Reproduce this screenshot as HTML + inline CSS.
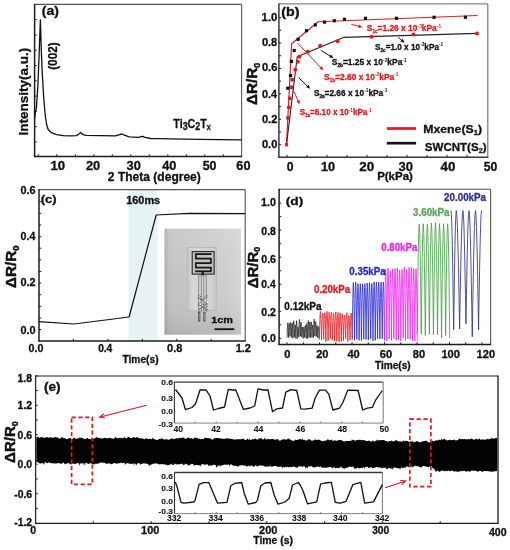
<!DOCTYPE html>
<html><head><meta charset="utf-8"><title>Figure</title>
<style>html,body{margin:0;padding:0;background:#fff;width:510px;height:550px;overflow:hidden}svg{display:block}</style>
</head><body>
<svg width="510" height="550" viewBox="0 0 510 550"><rect width="510" height="550" fill="#fff"/><line x1="34.60" y1="4.40" x2="241.60" y2="4.40" stroke="#555555" stroke-width="1.10"/>
<line x1="241.60" y1="4.40" x2="241.60" y2="156.50" stroke="#555555" stroke-width="1.10"/>
<line x1="34.60" y1="3.90" x2="34.60" y2="157.10" stroke="#1c1c1c" stroke-width="1.50"/>
<line x1="34.00" y1="156.50" x2="242.10" y2="156.50" stroke="#1c1c1c" stroke-width="1.50"/>
<line x1="34.60" y1="19.60" x2="36.80" y2="19.60" stroke="#1e1e1e" stroke-width="1.00"/>
<line x1="34.60" y1="34.90" x2="36.80" y2="34.90" stroke="#1e1e1e" stroke-width="1.00"/>
<line x1="34.60" y1="50.20" x2="36.80" y2="50.20" stroke="#1e1e1e" stroke-width="1.00"/>
<line x1="34.60" y1="65.50" x2="36.80" y2="65.50" stroke="#1e1e1e" stroke-width="1.00"/>
<line x1="34.60" y1="80.80" x2="36.80" y2="80.80" stroke="#1e1e1e" stroke-width="1.00"/>
<line x1="34.60" y1="96.10" x2="36.80" y2="96.10" stroke="#1e1e1e" stroke-width="1.00"/>
<line x1="34.60" y1="111.40" x2="36.80" y2="111.40" stroke="#1e1e1e" stroke-width="1.00"/>
<line x1="34.60" y1="126.70" x2="36.80" y2="126.70" stroke="#1e1e1e" stroke-width="1.00"/>
<line x1="34.60" y1="142.00" x2="36.80" y2="142.00" stroke="#1e1e1e" stroke-width="1.00"/>
<line x1="38.30" y1="156.50" x2="38.30" y2="154.30" stroke="#1e1e1e" stroke-width="1.00"/>
<line x1="56.80" y1="156.50" x2="56.80" y2="154.30" stroke="#1e1e1e" stroke-width="1.00"/>
<line x1="75.30" y1="156.50" x2="75.30" y2="154.30" stroke="#1e1e1e" stroke-width="1.00"/>
<line x1="93.80" y1="156.50" x2="93.80" y2="154.30" stroke="#1e1e1e" stroke-width="1.00"/>
<line x1="112.30" y1="156.50" x2="112.30" y2="154.30" stroke="#1e1e1e" stroke-width="1.00"/>
<line x1="130.80" y1="156.50" x2="130.80" y2="154.30" stroke="#1e1e1e" stroke-width="1.00"/>
<line x1="149.30" y1="156.50" x2="149.30" y2="154.30" stroke="#1e1e1e" stroke-width="1.00"/>
<line x1="167.80" y1="156.50" x2="167.80" y2="154.30" stroke="#1e1e1e" stroke-width="1.00"/>
<line x1="186.30" y1="156.50" x2="186.30" y2="154.30" stroke="#1e1e1e" stroke-width="1.00"/>
<line x1="204.80" y1="156.50" x2="204.80" y2="154.30" stroke="#1e1e1e" stroke-width="1.00"/>
<line x1="223.30" y1="156.50" x2="223.30" y2="154.30" stroke="#1e1e1e" stroke-width="1.00"/>
<polyline points="34.60,118.50 35.30,112.50 36.40,108.00 37.90,85.00 38.90,60.00 40.40,19.80 41.30,50.00 42.20,72.00 43.70,98.00 45.30,116.00 46.60,124.50 48.20,129.50 51.00,132.30 56.50,134.60 63.50,135.70 70.00,135.90 76.50,135.60 79.00,134.00 80.70,132.40 82.50,134.30 85.90,135.30 100.00,135.70 115.30,135.80 119.00,134.80 121.90,134.00 125.00,135.30 129.40,136.80 138.80,137.30 141.00,136.60 142.80,136.30 145.00,137.40 150.60,138.50 160.00,138.60 170.00,138.80 200.00,139.40 241.60,139.80" fill="none" stroke="#111" stroke-width="1.30" stroke-linejoin="round"/>
<text transform="translate(41.77,15.20) scale(1.1652,1)" font-family='"Liberation Sans", sans-serif' font-weight="bold" fill="#111" stroke="#111" stroke-width="0.30" stroke-linejoin="round"><tspan x="0.00" y="0.00" font-size="12.00">(a)</tspan></text>
<text transform="translate(57.20,69.30) rotate(-90) scale(0.9618,1) translate(-0.55,0)" font-family='"Liberation Sans", sans-serif' font-weight="bold" fill="#111" stroke="#111" stroke-width="0.30" stroke-linejoin="round"><tspan x="0.00" y="0.00" font-size="12.30">(002)</tspan></text>
<text transform="translate(27.80,134.50) rotate(-90) scale(1.0719,1) translate(-0.82,0)" font-family='"Liberation Sans", sans-serif' font-weight="bold" fill="#111" stroke="#111" stroke-width="0.30" stroke-linejoin="round"><tspan x="0.00" y="0.00" font-size="12.60">Intensity(a.u.)</tspan></text>
<text transform="translate(173.29,127.70) scale(0.8459,1)" font-family='"Liberation Sans", sans-serif' font-weight="bold" fill="#111" stroke="#111" stroke-width="0.30" stroke-linejoin="round"><tspan x="0.00" y="0.00" font-size="12.70">Ti</tspan><tspan x="11.06" y="2.20" font-size="10.50">3</tspan><tspan x="16.90" y="0.00" font-size="12.70">C</tspan><tspan x="26.07" y="2.20" font-size="10.50">2</tspan><tspan x="31.91" y="0.00" font-size="12.70">T</tspan><tspan x="39.67" y="2.20" font-size="8.50">x</tspan></text>
<text transform="translate(50.51,169.80) scale(1.0733,1)" font-family='"Liberation Sans", sans-serif' font-weight="bold" fill="#111" stroke="#111" stroke-width="0.30" stroke-linejoin="round"><tspan x="0.00" y="0.00" font-size="12.30">10</tspan></text>
<text transform="translate(85.92,169.80) scale(1.0425,1)" font-family='"Liberation Sans", sans-serif' font-weight="bold" fill="#111" stroke="#111" stroke-width="0.30" stroke-linejoin="round"><tspan x="0.00" y="0.00" font-size="12.30">20</tspan></text>
<text transform="translate(126.54,169.80) scale(1.0403,1)" font-family='"Liberation Sans", sans-serif' font-weight="bold" fill="#111" stroke="#111" stroke-width="0.30" stroke-linejoin="round"><tspan x="0.00" y="0.00" font-size="12.30">30</tspan></text>
<text transform="translate(162.21,169.80) scale(1.0354,1)" font-family='"Liberation Sans", sans-serif' font-weight="bold" fill="#111" stroke="#111" stroke-width="0.30" stroke-linejoin="round"><tspan x="0.00" y="0.00" font-size="12.30">40</tspan></text>
<text transform="translate(202.63,169.80) scale(1.0114,1)" font-family='"Liberation Sans", sans-serif' font-weight="bold" fill="#111" stroke="#111" stroke-width="0.30" stroke-linejoin="round"><tspan x="0.00" y="0.00" font-size="12.30">50</tspan></text>
<text transform="translate(236.36,169.80) scale(1.0319,1)" font-family='"Liberation Sans", sans-serif' font-weight="bold" fill="#111" stroke="#111" stroke-width="0.30" stroke-linejoin="round"><tspan x="0.00" y="0.00" font-size="12.30">60</tspan></text>
<text transform="translate(107.84,180.50) scale(0.9638,1)" font-family='"Liberation Sans", sans-serif' font-weight="bold" fill="#111" stroke="#111" stroke-width="0.30" stroke-linejoin="round"><tspan x="0.00" y="0.00" font-size="12.50">2 Theta (degree)</tspan></text>
<line x1="278.90" y1="3.90" x2="487.80" y2="3.90" stroke="#858585" stroke-width="1.10"/>
<line x1="487.80" y1="3.90" x2="487.80" y2="157.30" stroke="#6a6a6a" stroke-width="1.10"/>
<line x1="278.90" y1="3.40" x2="278.90" y2="157.90" stroke="#383838" stroke-width="1.50"/>
<line x1="278.30" y1="157.30" x2="488.30" y2="157.30" stroke="#383838" stroke-width="1.50"/>
<line x1="279.00" y1="144.70" x2="281.20" y2="144.70" stroke="#1e1e1e" stroke-width="1.00"/>
<line x1="279.00" y1="131.99" x2="281.20" y2="131.99" stroke="#1e1e1e" stroke-width="1.00"/>
<line x1="279.00" y1="119.28" x2="281.20" y2="119.28" stroke="#1e1e1e" stroke-width="1.00"/>
<line x1="279.00" y1="106.57" x2="281.20" y2="106.57" stroke="#1e1e1e" stroke-width="1.00"/>
<line x1="279.00" y1="93.86" x2="281.20" y2="93.86" stroke="#1e1e1e" stroke-width="1.00"/>
<line x1="279.00" y1="81.15" x2="281.20" y2="81.15" stroke="#1e1e1e" stroke-width="1.00"/>
<line x1="279.00" y1="68.44" x2="281.20" y2="68.44" stroke="#1e1e1e" stroke-width="1.00"/>
<line x1="279.00" y1="55.73" x2="281.20" y2="55.73" stroke="#1e1e1e" stroke-width="1.00"/>
<line x1="279.00" y1="43.02" x2="281.20" y2="43.02" stroke="#1e1e1e" stroke-width="1.00"/>
<line x1="279.00" y1="30.31" x2="281.20" y2="30.31" stroke="#1e1e1e" stroke-width="1.00"/>
<line x1="279.00" y1="17.60" x2="281.20" y2="17.60" stroke="#1e1e1e" stroke-width="1.00"/>
<line x1="287.00" y1="157.10" x2="287.00" y2="154.90" stroke="#1e1e1e" stroke-width="1.00"/>
<line x1="307.00" y1="157.10" x2="307.00" y2="154.90" stroke="#1e1e1e" stroke-width="1.00"/>
<line x1="327.00" y1="157.10" x2="327.00" y2="154.90" stroke="#1e1e1e" stroke-width="1.00"/>
<line x1="347.00" y1="157.10" x2="347.00" y2="154.90" stroke="#1e1e1e" stroke-width="1.00"/>
<line x1="367.00" y1="157.10" x2="367.00" y2="154.90" stroke="#1e1e1e" stroke-width="1.00"/>
<line x1="387.00" y1="157.10" x2="387.00" y2="154.90" stroke="#1e1e1e" stroke-width="1.00"/>
<line x1="407.00" y1="157.10" x2="407.00" y2="154.90" stroke="#1e1e1e" stroke-width="1.00"/>
<line x1="427.00" y1="157.10" x2="427.00" y2="154.90" stroke="#1e1e1e" stroke-width="1.00"/>
<line x1="447.00" y1="157.10" x2="447.00" y2="154.90" stroke="#1e1e1e" stroke-width="1.00"/>
<line x1="467.00" y1="157.10" x2="467.00" y2="154.90" stroke="#1e1e1e" stroke-width="1.00"/>
<text transform="translate(261.91,148.35) scale(1.0408,1)" font-family='"Liberation Sans", sans-serif' font-weight="bold" fill="#111" stroke="#111" stroke-width="0.30" stroke-linejoin="round"><tspan x="0.00" y="0.00" font-size="10.70">0.0</tspan></text>
<text transform="translate(261.91,122.95) scale(1.0408,1)" font-family='"Liberation Sans", sans-serif' font-weight="bold" fill="#111" stroke="#111" stroke-width="0.30" stroke-linejoin="round"><tspan x="0.00" y="0.00" font-size="10.70">0.2</tspan></text>
<text transform="translate(261.92,97.80) scale(1.0139,1)" font-family='"Liberation Sans", sans-serif' font-weight="bold" fill="#111" stroke="#111" stroke-width="0.30" stroke-linejoin="round"><tspan x="0.00" y="0.00" font-size="10.70">0.4</tspan></text>
<text transform="translate(261.91,70.80) scale(1.0408,1)" font-family='"Liberation Sans", sans-serif' font-weight="bold" fill="#111" stroke="#111" stroke-width="0.30" stroke-linejoin="round"><tspan x="0.00" y="0.00" font-size="10.70">0.6</tspan></text>
<text transform="translate(261.91,45.80) scale(1.0330,1)" font-family='"Liberation Sans", sans-serif' font-weight="bold" fill="#111" stroke="#111" stroke-width="0.30" stroke-linejoin="round"><tspan x="0.00" y="0.00" font-size="10.70">0.8</tspan></text>
<text transform="translate(261.62,20.90) scale(1.0609,1)" font-family='"Liberation Sans", sans-serif' font-weight="bold" fill="#111" stroke="#111" stroke-width="0.30" stroke-linejoin="round"><tspan x="0.00" y="0.00" font-size="10.70">1.0</tspan></text>
<text transform="translate(286.87,170.90) scale(1.0054,1)" font-family='"Liberation Sans", sans-serif' font-weight="bold" fill="#111" stroke="#111" stroke-width="0.30" stroke-linejoin="round"><tspan x="0.00" y="0.00" font-size="12.10">0</tspan></text>
<text transform="translate(321.04,170.90) scale(1.0504,1)" font-family='"Liberation Sans", sans-serif' font-weight="bold" fill="#111" stroke="#111" stroke-width="0.30" stroke-linejoin="round"><tspan x="0.00" y="0.00" font-size="12.10">10</tspan></text>
<text transform="translate(359.20,170.90) scale(1.1072,1)" font-family='"Liberation Sans", sans-serif' font-weight="bold" fill="#111" stroke="#111" stroke-width="0.30" stroke-linejoin="round"><tspan x="0.00" y="0.00" font-size="12.10">20</tspan></text>
<text transform="translate(398.54,170.90) scale(1.0732,1)" font-family='"Liberation Sans", sans-serif' font-weight="bold" fill="#111" stroke="#111" stroke-width="0.30" stroke-linejoin="round"><tspan x="0.00" y="0.00" font-size="12.10">30</tspan></text>
<text transform="translate(440.60,170.90) scale(1.1071,1)" font-family='"Liberation Sans", sans-serif' font-weight="bold" fill="#111" stroke="#111" stroke-width="0.30" stroke-linejoin="round"><tspan x="0.00" y="0.00" font-size="12.10">40</tspan></text>
<text transform="translate(483.63,170.90) scale(1.0123,1)" font-family='"Liberation Sans", sans-serif' font-weight="bold" fill="#111" stroke="#111" stroke-width="0.30" stroke-linejoin="round"><tspan x="0.00" y="0.00" font-size="12.10">50</tspan></text>
<text transform="translate(377.15,180.30) scale(1.0238,1)" font-family='"Liberation Sans", sans-serif' font-weight="bold" fill="#111" stroke="#111" stroke-width="0.30" stroke-linejoin="round"><tspan x="0.00" y="0.00" font-size="11.20">P(kPa)</tspan></text>
<text transform="translate(257.00,104.40) rotate(-90) scale(1.0176,1) translate(-0.60,0)" font-family='"Liberation Sans", sans-serif' font-weight="bold" fill="#111" stroke="#111" stroke-width="0.45" stroke-linejoin="round"><tspan x="0.00" y="0.00" font-size="15.00">ΔR/R</tspan><tspan x="36.61" y="2.80" font-size="8.60">0</tspan></text>
<text transform="translate(281.26,16.30) scale(1.1885,1)" font-family='"Liberation Sans", sans-serif' font-weight="bold" fill="#111" stroke="#111" stroke-width="0.30" stroke-linejoin="round"><tspan x="0.00" y="0.00" font-size="12.00">(b)</tspan></text>
<polyline points="286.50,144.70 291.60,43.80 318.20,21.80 477.70,15.50" fill="none" stroke="#e8161c" stroke-width="1.15" stroke-linejoin="round"/>
<polyline points="286.50,144.70 297.20,56.80 343.50,37.40 477.00,33.40" fill="none" stroke="#222" stroke-width="1.10" stroke-linejoin="round"/>
<rect x="286.10" y="86.60" width="3.2" height="3.2" fill="#111"/>
<rect x="288.90" y="74.00" width="3.2" height="3.2" fill="#111"/>
<rect x="289.80" y="59.80" width="3.2" height="3.2" fill="#111"/>
<rect x="292.60" y="48.90" width="3.2" height="3.2" fill="#111"/>
<rect x="296.50" y="37.70" width="3.2" height="3.2" fill="#111"/>
<rect x="304.90" y="29.10" width="3.2" height="3.2" fill="#111"/>
<rect x="313.70" y="23.30" width="3.2" height="3.2" fill="#111"/>
<rect x="322.90" y="20.50" width="3.2" height="3.2" fill="#111"/>
<rect x="332.70" y="19.10" width="3.2" height="3.2" fill="#111"/>
<rect x="342.90" y="17.70" width="3.2" height="3.2" fill="#111"/>
<rect x="363.90" y="16.70" width="3.2" height="3.2" fill="#111"/>
<rect x="394.90" y="16.70" width="3.2" height="3.2" fill="#111"/>
<rect x="432.50" y="15.70" width="3.2" height="3.2" fill="#111"/>
<rect x="463.80" y="15.70" width="3.2" height="3.2" fill="#111"/>
<circle cx="288.00" cy="118.10" r="2.0" fill="#e8161c"/>
<circle cx="288.90" cy="107.40" r="2.0" fill="#e8161c"/>
<circle cx="289.80" cy="98.20" r="2.0" fill="#e8161c"/>
<circle cx="291.40" cy="87.30" r="2.0" fill="#e8161c"/>
<circle cx="292.30" cy="79.80" r="2.0" fill="#e8161c"/>
<circle cx="295.30" cy="69.80" r="2.0" fill="#e8161c"/>
<circle cx="297.70" cy="61.80" r="2.0" fill="#e8161c"/>
<circle cx="299.40" cy="56.70" r="2.0" fill="#e8161c"/>
<circle cx="307.90" cy="51.70" r="2.0" fill="#e8161c"/>
<circle cx="320.20" cy="45.80" r="2.0" fill="#e8161c"/>
<circle cx="337.60" cy="41.30" r="2.0" fill="#e8161c"/>
<circle cx="371.40" cy="36.80" r="2.0" fill="#e8161c"/>
<circle cx="413.50" cy="34.60" r="2.0" fill="#e8161c"/>
<circle cx="477.00" cy="33.40" r="2.0" fill="#e8161c"/>
<rect x="284.9" y="143.1" width="3.2" height="3.2" fill="#e8161c"/>
<line x1="351.40" y1="24.40" x2="359.11" y2="26.42" stroke="#e8161c" stroke-width="1.00"/>
<polygon points="362.50,27.30 358.17,28.03 359.08,24.55" fill="#e8161c"/>
<line x1="398.40" y1="37.40" x2="401.88" y2="40.48" stroke="#111" stroke-width="1.00"/>
<polygon points="404.50,42.80 400.31,41.50 402.70,38.80" fill="#111"/>
<line x1="320.70" y1="50.20" x2="330.51" y2="56.18" stroke="#111" stroke-width="1.00"/>
<polygon points="333.50,58.00 329.15,57.46 331.02,54.38" fill="#111"/>
<line x1="297.60" y1="43.30" x2="320.88" y2="67.67" stroke="#e8161c" stroke-width="1.00"/>
<polygon points="323.30,70.20 319.24,68.55 321.84,66.06" fill="#e8161c"/>
<line x1="298.60" y1="77.70" x2="307.67" y2="86.38" stroke="#111" stroke-width="1.00"/>
<polygon points="310.20,88.80 306.07,87.34 308.55,84.73" fill="#111"/>
<line x1="292.90" y1="89.10" x2="298.28" y2="101.20" stroke="#e8161c" stroke-width="1.00"/>
<polygon points="299.70,104.40 296.43,101.48 299.72,100.01" fill="#e8161c"/>
<text transform="translate(366.79,30.90) scale(0.9336,1)" font-family='"Liberation Sans", sans-serif' font-weight="bold" fill="#e8161c" stroke="#e8161c" stroke-width="0.30" stroke-linejoin="round"><tspan x="0.00" y="0.00" font-size="9.00">S</tspan><tspan x="6.00" y="2.00" font-size="5.00">1c</tspan><tspan x="11.56" y="0.00" font-size="9.00">=1.26 x 10</tspan><tspan x="54.36" y="-3.40" font-size="5.20" stroke-width="0">-3</tspan><tspan x="58.98" y="0.00" font-size="9.00">kPa</tspan><tspan x="74.99" y="-3.40" font-size="5.20" stroke-width="0">-1</tspan></text>
<text transform="translate(375.09,49.60) scale(0.9130,1)" font-family='"Liberation Sans", sans-serif' font-weight="bold" fill="#111" stroke="#111" stroke-width="0.30" stroke-linejoin="round"><tspan x="0.00" y="0.00" font-size="9.00">S</tspan><tspan x="6.00" y="2.00" font-size="5.00">2c</tspan><tspan x="11.56" y="0.00" font-size="9.00">=1.0 x 10</tspan><tspan x="49.35" y="-3.40" font-size="5.20" stroke-width="0">-3</tspan><tspan x="53.97" y="0.00" font-size="9.00">kPa</tspan><tspan x="69.99" y="-3.40" font-size="5.20" stroke-width="0">-1</tspan></text>
<text transform="translate(331.79,65.00) scale(0.9379,1)" font-family='"Liberation Sans", sans-serif' font-weight="bold" fill="#111" stroke="#111" stroke-width="0.30" stroke-linejoin="round"><tspan x="0.00" y="0.00" font-size="9.00">S</tspan><tspan x="6.00" y="2.00" font-size="5.00">2b</tspan><tspan x="11.84" y="0.00" font-size="9.00">=1.25 x 10</tspan><tspan x="54.63" y="-3.40" font-size="5.20" stroke-width="0">-2</tspan><tspan x="59.25" y="0.00" font-size="9.00">kPa</tspan><tspan x="75.27" y="-3.40" font-size="5.20" stroke-width="0">-1</tspan></text>
<text transform="translate(324.09,79.60) scale(0.9316,1)" font-family='"Liberation Sans", sans-serif' font-weight="bold" fill="#e8161c" stroke="#e8161c" stroke-width="0.30" stroke-linejoin="round"><tspan x="0.00" y="0.00" font-size="9.00">S</tspan><tspan x="6.00" y="2.00" font-size="5.00">1b</tspan><tspan x="11.84" y="0.00" font-size="9.00">=2.60 x 10</tspan><tspan x="54.63" y="-3.40" font-size="5.20" stroke-width="0">-2</tspan><tspan x="59.25" y="0.00" font-size="9.00">kPa</tspan><tspan x="75.27" y="-3.40" font-size="5.20" stroke-width="0">-1</tspan></text>
<text transform="translate(313.89,95.80) scale(0.9247,1)" font-family='"Liberation Sans", sans-serif' font-weight="bold" fill="#111" stroke="#111" stroke-width="0.30" stroke-linejoin="round"><tspan x="0.00" y="0.00" font-size="9.00">S</tspan><tspan x="6.00" y="2.00" font-size="5.00">2a</tspan><tspan x="11.56" y="0.00" font-size="9.00">=2.66 x 10</tspan><tspan x="54.36" y="-3.40" font-size="5.20" stroke-width="0">-1</tspan><tspan x="58.98" y="0.00" font-size="9.00">kPa</tspan><tspan x="74.99" y="-3.40" font-size="5.20" stroke-width="0">-1</tspan></text>
<text transform="translate(299.70,115.20) scale(0.9020,1)" font-family='"Liberation Sans", sans-serif' font-weight="bold" fill="#e8161c" stroke="#e8161c" stroke-width="0.30" stroke-linejoin="round"><tspan x="0.00" y="0.00" font-size="9.00">S</tspan><tspan x="6.00" y="2.00" font-size="5.00">1a</tspan><tspan x="11.56" y="0.00" font-size="9.00">=6.10 x 10</tspan><tspan x="54.36" y="-3.40" font-size="5.20" stroke-width="0">-1</tspan><tspan x="58.98" y="0.00" font-size="9.00">kPa</tspan><tspan x="74.99" y="-3.40" font-size="5.20" stroke-width="0">-1</tspan></text>
<line x1="386.80" y1="128.50" x2="416.10" y2="128.50" stroke="#e8161c" stroke-width="2.70"/>
<line x1="386.80" y1="143.20" x2="416.10" y2="143.20" stroke="#111" stroke-width="2.70"/>
<text transform="translate(423.20,133.00) scale(1.0880,1)" font-family='"Liberation Sans", sans-serif' font-weight="bold" fill="#111" stroke="#111" stroke-width="0.30" stroke-linejoin="round"><tspan x="0.00" y="0.00" font-size="11.30">Mxene(S</tspan><tspan x="46.47" y="2.20" font-size="7.00">1</tspan><tspan x="50.36" y="0.00" font-size="11.30">)</tspan></text>
<text transform="translate(424.81,151.10) scale(1.0225,1)" font-family='"Liberation Sans", sans-serif' font-weight="bold" fill="#111" stroke="#111" stroke-width="0.30" stroke-linejoin="round"><tspan x="0.00" y="0.00" font-size="11.30">SWCNT(S</tspan><tspan x="52.73" y="2.20" font-size="7.00">2</tspan><tspan x="56.62" y="0.00" font-size="11.30">)</tspan></text>
<rect x="128.5" y="189.6" width="29.0" height="151.4" fill="#e7f2f5"/>
<line x1="39.00" y1="189.60" x2="245.20" y2="189.60" stroke="#555555" stroke-width="1.10"/>
<line x1="245.20" y1="189.60" x2="245.20" y2="341.00" stroke="#555555" stroke-width="1.10"/>
<line x1="39.00" y1="189.10" x2="39.00" y2="341.60" stroke="#1c1c1c" stroke-width="1.50"/>
<line x1="38.40" y1="341.00" x2="245.70" y2="341.00" stroke="#1c1c1c" stroke-width="1.50"/>
<line x1="39.00" y1="329.60" x2="41.20" y2="329.60" stroke="#1e1e1e" stroke-width="1.00"/>
<line x1="39.00" y1="317.98" x2="41.20" y2="317.98" stroke="#1e1e1e" stroke-width="1.00"/>
<line x1="39.00" y1="306.35" x2="41.20" y2="306.35" stroke="#1e1e1e" stroke-width="1.00"/>
<line x1="39.00" y1="294.73" x2="41.20" y2="294.73" stroke="#1e1e1e" stroke-width="1.00"/>
<line x1="39.00" y1="283.10" x2="41.20" y2="283.10" stroke="#1e1e1e" stroke-width="1.00"/>
<line x1="39.00" y1="271.48" x2="41.20" y2="271.48" stroke="#1e1e1e" stroke-width="1.00"/>
<line x1="39.00" y1="259.85" x2="41.20" y2="259.85" stroke="#1e1e1e" stroke-width="1.00"/>
<line x1="39.00" y1="248.23" x2="41.20" y2="248.23" stroke="#1e1e1e" stroke-width="1.00"/>
<line x1="39.00" y1="236.60" x2="41.20" y2="236.60" stroke="#1e1e1e" stroke-width="1.00"/>
<line x1="39.00" y1="224.98" x2="41.20" y2="224.98" stroke="#1e1e1e" stroke-width="1.00"/>
<line x1="39.00" y1="213.35" x2="41.20" y2="213.35" stroke="#1e1e1e" stroke-width="1.00"/>
<line x1="39.00" y1="201.73" x2="41.20" y2="201.73" stroke="#1e1e1e" stroke-width="1.00"/>
<line x1="73.44" y1="341.00" x2="73.44" y2="338.80" stroke="#1e1e1e" stroke-width="1.00"/>
<line x1="107.88" y1="341.00" x2="107.88" y2="338.80" stroke="#1e1e1e" stroke-width="1.00"/>
<line x1="142.32" y1="341.00" x2="142.32" y2="338.80" stroke="#1e1e1e" stroke-width="1.00"/>
<line x1="176.76" y1="341.00" x2="176.76" y2="338.80" stroke="#1e1e1e" stroke-width="1.00"/>
<line x1="211.20" y1="341.00" x2="211.20" y2="338.80" stroke="#1e1e1e" stroke-width="1.00"/>
<polyline points="39.00,321.60 73.90,324.00 129.10,317.00 156.20,215.00 188.60,213.40 245.20,213.60" fill="none" stroke="#111" stroke-width="1.20" stroke-linejoin="round"/>
<text transform="translate(20.52,333.60) scale(1.0292,1)" font-family='"Liberation Sans", sans-serif' font-weight="bold" fill="#111" stroke="#111" stroke-width="0.30" stroke-linejoin="round"><tspan x="0.00" y="0.00" font-size="10.60">0.0</tspan></text>
<text transform="translate(20.52,285.60) scale(1.0292,1)" font-family='"Liberation Sans", sans-serif' font-weight="bold" fill="#111" stroke="#111" stroke-width="0.30" stroke-linejoin="round"><tspan x="0.00" y="0.00" font-size="10.60">0.2</tspan></text>
<text transform="translate(20.53,240.05) scale(1.0026,1)" font-family='"Liberation Sans", sans-serif' font-weight="bold" fill="#111" stroke="#111" stroke-width="0.30" stroke-linejoin="round"><tspan x="0.00" y="0.00" font-size="10.60">0.4</tspan></text>
<text transform="translate(20.52,194.05) scale(1.0292,1)" font-family='"Liberation Sans", sans-serif' font-weight="bold" fill="#111" stroke="#111" stroke-width="0.30" stroke-linejoin="round"><tspan x="0.00" y="0.00" font-size="10.60">0.6</tspan></text>
<text transform="translate(28.53,352.00) scale(1.0271,1)" font-family='"Liberation Sans", sans-serif' font-weight="bold" fill="#111" stroke="#111" stroke-width="0.30" stroke-linejoin="round"><tspan x="0.00" y="0.00" font-size="10.40">0.0</tspan></text>
<text transform="translate(98.14,352.00) scale(0.9793,1)" font-family='"Liberation Sans", sans-serif' font-weight="bold" fill="#111" stroke="#111" stroke-width="0.30" stroke-linejoin="round"><tspan x="0.00" y="0.00" font-size="10.40">0.4</tspan></text>
<text transform="translate(167.12,352.00) scale(1.0555,1)" font-family='"Liberation Sans", sans-serif' font-weight="bold" fill="#111" stroke="#111" stroke-width="0.30" stroke-linejoin="round"><tspan x="0.00" y="0.00" font-size="10.40">0.8</tspan></text>
<text transform="translate(235.74,352.00) scale(1.0544,1)" font-family='"Liberation Sans", sans-serif' font-weight="bold" fill="#111" stroke="#111" stroke-width="0.30" stroke-linejoin="round"><tspan x="0.00" y="0.00" font-size="10.40">1.2</tspan></text>
<text transform="translate(122.40,363.20) scale(0.9651,1)" font-family='"Liberation Sans", sans-serif' font-weight="bold" fill="#111" stroke="#111" stroke-width="0.30" stroke-linejoin="round"><tspan x="0.00" y="0.00" font-size="10.60">Time(s)</tspan></text>
<text transform="translate(40.71,203.20) scale(1.1826,1)" font-family='"Liberation Sans", sans-serif' font-weight="bold" fill="#111" stroke="#111" stroke-width="0.30" stroke-linejoin="round"><tspan x="0.00" y="0.00" font-size="11.00">(c)</tspan></text>
<text transform="translate(126.25,204.30) scale(1.0475,1)" font-family='"Liberation Sans", sans-serif' font-weight="bold" fill="#111" stroke="#111" stroke-width="0.30" stroke-linejoin="round"><tspan x="0.00" y="0.00" font-size="10.40">160ms</tspan></text>
<text transform="translate(15.60,287.30) rotate(-90) scale(1.1062,1) translate(-0.55,0)" font-family='"Liberation Sans", sans-serif' font-weight="bold" fill="#111" stroke="#111" stroke-width="0.45" stroke-linejoin="round"><tspan x="0.00" y="0.00" font-size="13.80">ΔR/R</tspan><tspan x="33.68" y="3.60" font-size="8.60">0</tspan></text>
<defs>
<linearGradient id="pg" x1="0" y1="0" x2="1" y2="0">
<stop offset="0" stop-color="#a9a9a9"/><stop offset="0.06" stop-color="#c2c2c2"/>
<stop offset="0.5" stop-color="#c9c9c9"/><stop offset="0.85" stop-color="#cfcfcf"/><stop offset="1" stop-color="#d6d6d6"/>
</linearGradient>
<linearGradient id="vg" x1="0" y1="0" x2="0" y2="1">
<stop offset="0" stop-color="#fff" stop-opacity="0.12"/><stop offset="0.5" stop-color="#fff" stop-opacity="0"/><stop offset="1" stop-color="#000" stop-opacity="0.1"/>
</linearGradient>
<linearGradient id="fg" x1="0" y1="0" x2="1" y2="0">
<stop offset="0" stop-color="#c4c4c4"/><stop offset="0.2" stop-color="#d7d7d7"/><stop offset="0.8" stop-color="#d2d2d2"/><stop offset="1" stop-color="#c6c6c6"/>
</linearGradient>
</defs>
<rect x="164.5" y="228.6" width="76.6" height="106.1" fill="url(#pg)"/>
<rect x="164.5" y="228.6" width="76.6" height="106.1" fill="url(#vg)"/>
<rect x="187.2" y="247.6" width="29.0" height="63.0" fill="url(#fg)" stroke="#b4b4b4" stroke-width="0.7"/>
<rect x="192.2" y="251.6" width="21.9" height="22.5" fill="#c2c1bb" stroke="#262626" stroke-width="1.1"/>
<line x1="195.20" y1="254.10" x2="211.50" y2="254.10" stroke="#161616" stroke-width="1.75"/>
<line x1="195.20" y1="258.60" x2="211.50" y2="258.60" stroke="#161616" stroke-width="1.75"/>
<line x1="195.20" y1="263.10" x2="211.50" y2="263.10" stroke="#161616" stroke-width="1.75"/>
<line x1="195.20" y1="267.60" x2="211.50" y2="267.60" stroke="#161616" stroke-width="1.75"/>
<line x1="195.20" y1="271.30" x2="211.50" y2="271.30" stroke="#161616" stroke-width="1.75"/>
<line x1="195.80" y1="254.10" x2="195.80" y2="258.60" stroke="#161616" stroke-width="1.70"/>
<line x1="195.80" y1="263.10" x2="195.80" y2="267.60" stroke="#161616" stroke-width="1.70"/>
<line x1="210.90" y1="258.60" x2="210.90" y2="263.10" stroke="#161616" stroke-width="1.70"/>
<line x1="210.90" y1="267.60" x2="210.90" y2="271.30" stroke="#161616" stroke-width="1.70"/>
<line x1="202.70" y1="271.30" x2="202.70" y2="275.50" stroke="#161616" stroke-width="2.20"/>
<rect x="198.5" y="275.8" width="3.0" height="36" fill="#c6c6c6" stroke="#7c7c7c" stroke-width="0.6"/>
<rect x="203.6" y="275.8" width="3.0" height="36" fill="#c6c6c6" stroke="#7c7c7c" stroke-width="0.6"/>
<polyline points="198.50,297.00 206.50,304.00 198.50,310.00" fill="none" stroke="#6a6a6a" stroke-width="0.80" stroke-linejoin="round"/>
<polyline points="206.50,297.00 198.50,304.00 206.50,310.00" fill="none" stroke="#7a7a7a" stroke-width="0.80" stroke-linejoin="round"/>
<rect x="199.9" y="303.7" width="1" height="1" fill="#e6e6e6"/>
<rect x="206.7" y="302.6" width="1" height="1" fill="#9a9a9a"/>
<rect x="198.2" y="295.2" width="1" height="1" fill="#4a4a4a"/>
<rect x="200.1" y="298.7" width="1" height="1" fill="#4a4a4a"/>
<rect x="202.9" y="303.8" width="1" height="1" fill="#4a4a4a"/>
<rect x="203.9" y="297.4" width="1" height="1" fill="#7a7a7a"/>
<rect x="206.2" y="303.4" width="1" height="1" fill="#5e5e5e"/>
<rect x="204.2" y="296.0" width="1" height="1" fill="#9a9a9a"/>
<rect x="197.9" y="307.5" width="1" height="1" fill="#e6e6e6"/>
<rect x="202.2" y="306.5" width="1" height="1" fill="#4a4a4a"/>
<rect x="204.6" y="309.7" width="1" height="1" fill="#4a4a4a"/>
<rect x="204.8" y="304.2" width="1" height="1" fill="#7a7a7a"/>
<rect x="206.3" y="296.6" width="1" height="1" fill="#7a7a7a"/>
<rect x="202.4" y="299.1" width="1" height="1" fill="#4a4a4a"/>
<rect x="205.3" y="308.7" width="1" height="1" fill="#4a4a4a"/>
<rect x="202.6" y="301.2" width="1" height="1" fill="#e6e6e6"/>
<rect x="202.8" y="301.5" width="1" height="1" fill="#7a7a7a"/>
<rect x="206.5" y="305.9" width="1" height="1" fill="#5e5e5e"/>
<rect x="206.1" y="310.9" width="1" height="1" fill="#7a7a7a"/>
<rect x="204.5" y="300.2" width="1" height="1" fill="#9a9a9a"/>
<rect x="206.5" y="304.1" width="1" height="1" fill="#7a7a7a"/>
<rect x="203.8" y="310.8" width="1" height="1" fill="#e6e6e6"/>
<rect x="200.3" y="296.0" width="1" height="1" fill="#4a4a4a"/>
<rect x="198.4" y="307.8" width="1" height="1" fill="#4a4a4a"/>
<rect x="206.5" y="295.3" width="1" height="1" fill="#4a4a4a"/>
<rect x="205.2" y="309.0" width="1" height="1" fill="#5e5e5e"/>
<rect x="203.5" y="307.2" width="1" height="1" fill="#4a4a4a"/>
<rect x="204.7" y="300.3" width="1" height="1" fill="#e6e6e6"/>
<rect x="202.6" y="311.0" width="1" height="1" fill="#e6e6e6"/>
<rect x="197.6" y="296.7" width="1" height="1" fill="#9a9a9a"/>
<rect x="197.8" y="298.2" width="1" height="1" fill="#4a4a4a"/>
<rect x="200.4" y="299.2" width="1" height="1" fill="#5e5e5e"/>
<rect x="207.3" y="300.4" width="1" height="1" fill="#e6e6e6"/>
<rect x="207.1" y="309.3" width="1" height="1" fill="#4a4a4a"/>
<rect x="201.3" y="308.9" width="1" height="1" fill="#4a4a4a"/>
<rect x="203.9" y="304.5" width="1" height="1" fill="#9a9a9a"/>
<rect x="198.5" y="310.6" width="1" height="1" fill="#9a9a9a"/>
<rect x="200.2" y="305.1" width="1" height="1" fill="#7a7a7a"/>
<rect x="206.9" y="302.0" width="1" height="1" fill="#e6e6e6"/>
<rect x="202.7" y="303.8" width="1" height="1" fill="#5e5e5e"/>
<rect x="205.4" y="310.8" width="1" height="1" fill="#e6e6e6"/>
<rect x="197.7" y="304.9" width="1" height="1" fill="#7a7a7a"/>
<rect x="198.1" y="305.0" width="1" height="1" fill="#4a4a4a"/>
<rect x="201.0" y="309.7" width="1" height="1" fill="#9a9a9a"/>
<rect x="204.6" y="306.8" width="1" height="1" fill="#5e5e5e"/>
<rect x="198.0" y="311.6" width="2.3" height="10.0" fill="#555"/>
<rect x="203.3" y="311.6" width="2.2" height="10.0" fill="#555"/>
<rect x="198.7" y="313" width="0.9" height="7.5" fill="#9a9a9a"/>
<rect x="204.0" y="313" width="0.8" height="7.5" fill="#9a9a9a"/>
<text transform="translate(211.15,323.40) scale(1.1359,1)" font-family='"Liberation Sans", sans-serif' font-weight="bold" fill="#111" stroke="#111" stroke-width="0.30" stroke-linejoin="round"><tspan x="0.00" y="0.00" font-size="9.60">1cm</tspan></text>
<line x1="214.50" y1="329.20" x2="234.30" y2="329.20" stroke="#111" stroke-width="1.80"/>
<line x1="279.10" y1="189.20" x2="490.60" y2="189.20" stroke="#555555" stroke-width="1.10"/>
<line x1="490.60" y1="189.20" x2="490.60" y2="344.50" stroke="#555555" stroke-width="1.10"/>
<line x1="279.10" y1="188.70" x2="279.10" y2="345.10" stroke="#1c1c1c" stroke-width="1.50"/>
<line x1="278.50" y1="344.50" x2="491.10" y2="344.50" stroke="#1c1c1c" stroke-width="1.50"/>
<line x1="279.10" y1="338.30" x2="281.30" y2="338.30" stroke="#1e1e1e" stroke-width="1.00"/>
<line x1="279.10" y1="324.78" x2="281.30" y2="324.78" stroke="#1e1e1e" stroke-width="1.00"/>
<line x1="279.10" y1="311.26" x2="281.30" y2="311.26" stroke="#1e1e1e" stroke-width="1.00"/>
<line x1="279.10" y1="297.74" x2="281.30" y2="297.74" stroke="#1e1e1e" stroke-width="1.00"/>
<line x1="279.10" y1="284.22" x2="281.30" y2="284.22" stroke="#1e1e1e" stroke-width="1.00"/>
<line x1="279.10" y1="270.70" x2="281.30" y2="270.70" stroke="#1e1e1e" stroke-width="1.00"/>
<line x1="279.10" y1="257.18" x2="281.30" y2="257.18" stroke="#1e1e1e" stroke-width="1.00"/>
<line x1="279.10" y1="243.66" x2="281.30" y2="243.66" stroke="#1e1e1e" stroke-width="1.00"/>
<line x1="279.10" y1="230.14" x2="281.30" y2="230.14" stroke="#1e1e1e" stroke-width="1.00"/>
<line x1="279.10" y1="216.62" x2="281.30" y2="216.62" stroke="#1e1e1e" stroke-width="1.00"/>
<line x1="279.10" y1="203.10" x2="281.30" y2="203.10" stroke="#1e1e1e" stroke-width="1.00"/>
<line x1="287.00" y1="344.50" x2="287.00" y2="342.30" stroke="#1e1e1e" stroke-width="1.00"/>
<line x1="303.25" y1="344.50" x2="303.25" y2="342.30" stroke="#1e1e1e" stroke-width="1.00"/>
<line x1="319.50" y1="344.50" x2="319.50" y2="342.30" stroke="#1e1e1e" stroke-width="1.00"/>
<line x1="335.75" y1="344.50" x2="335.75" y2="342.30" stroke="#1e1e1e" stroke-width="1.00"/>
<line x1="352.00" y1="344.50" x2="352.00" y2="342.30" stroke="#1e1e1e" stroke-width="1.00"/>
<line x1="368.25" y1="344.50" x2="368.25" y2="342.30" stroke="#1e1e1e" stroke-width="1.00"/>
<line x1="384.50" y1="344.50" x2="384.50" y2="342.30" stroke="#1e1e1e" stroke-width="1.00"/>
<line x1="400.75" y1="344.50" x2="400.75" y2="342.30" stroke="#1e1e1e" stroke-width="1.00"/>
<line x1="417.00" y1="344.50" x2="417.00" y2="342.30" stroke="#1e1e1e" stroke-width="1.00"/>
<line x1="433.25" y1="344.50" x2="433.25" y2="342.30" stroke="#1e1e1e" stroke-width="1.00"/>
<line x1="449.50" y1="344.50" x2="449.50" y2="342.30" stroke="#1e1e1e" stroke-width="1.00"/>
<line x1="465.75" y1="344.50" x2="465.75" y2="342.30" stroke="#1e1e1e" stroke-width="1.00"/>
<line x1="482.00" y1="344.50" x2="482.00" y2="342.30" stroke="#1e1e1e" stroke-width="1.00"/>
<text transform="translate(261.33,341.90) scale(1.0029,1)" font-family='"Liberation Sans", sans-serif' font-weight="bold" fill="#111" stroke="#111" stroke-width="0.30" stroke-linejoin="round"><tspan x="0.00" y="0.00" font-size="10.50">0.0</tspan></text>
<text transform="translate(261.33,315.70) scale(1.0029,1)" font-family='"Liberation Sans", sans-serif' font-weight="bold" fill="#111" stroke="#111" stroke-width="0.30" stroke-linejoin="round"><tspan x="0.00" y="0.00" font-size="10.50">0.2</tspan></text>
<text transform="translate(261.34,288.00) scale(0.9770,1)" font-family='"Liberation Sans", sans-serif' font-weight="bold" fill="#111" stroke="#111" stroke-width="0.30" stroke-linejoin="round"><tspan x="0.00" y="0.00" font-size="10.50">0.4</tspan></text>
<text transform="translate(261.33,262.50) scale(1.0029,1)" font-family='"Liberation Sans", sans-serif' font-weight="bold" fill="#111" stroke="#111" stroke-width="0.30" stroke-linejoin="round"><tspan x="0.00" y="0.00" font-size="10.50">0.6</tspan></text>
<text transform="translate(261.33,234.90) scale(0.9953,1)" font-family='"Liberation Sans", sans-serif' font-weight="bold" fill="#111" stroke="#111" stroke-width="0.30" stroke-linejoin="round"><tspan x="0.00" y="0.00" font-size="10.50">0.8</tspan></text>
<text transform="translate(261.06,206.25) scale(1.0222,1)" font-family='"Liberation Sans", sans-serif' font-weight="bold" fill="#111" stroke="#111" stroke-width="0.30" stroke-linejoin="round"><tspan x="0.00" y="0.00" font-size="10.50">1.0</tspan></text>
<text transform="translate(284.31,357.50) scale(1.0800,1)" font-family='"Liberation Sans", sans-serif' font-weight="bold" fill="#111" stroke="#111" stroke-width="0.30" stroke-linejoin="round"><tspan x="0.00" y="0.00" font-size="10.30">0</tspan></text>
<text transform="translate(316.15,357.50) scale(1.0800,1)" font-family='"Liberation Sans", sans-serif' font-weight="bold" fill="#111" stroke="#111" stroke-width="0.30" stroke-linejoin="round"><tspan x="0.00" y="0.00" font-size="10.30">20</tspan></text>
<text transform="translate(347.44,357.50) scale(1.0800,1)" font-family='"Liberation Sans", sans-serif' font-weight="bold" fill="#111" stroke="#111" stroke-width="0.30" stroke-linejoin="round"><tspan x="0.00" y="0.00" font-size="10.30">40</tspan></text>
<text transform="translate(379.83,357.50) scale(1.0800,1)" font-family='"Liberation Sans", sans-serif' font-weight="bold" fill="#111" stroke="#111" stroke-width="0.30" stroke-linejoin="round"><tspan x="0.00" y="0.00" font-size="10.30">60</tspan></text>
<text transform="translate(412.85,357.50) scale(1.0800,1)" font-family='"Liberation Sans", sans-serif' font-weight="bold" fill="#111" stroke="#111" stroke-width="0.30" stroke-linejoin="round"><tspan x="0.00" y="0.00" font-size="10.30">80</tspan></text>
<text transform="translate(441.40,357.50) scale(1.0800,1)" font-family='"Liberation Sans", sans-serif' font-weight="bold" fill="#111" stroke="#111" stroke-width="0.30" stroke-linejoin="round"><tspan x="0.00" y="0.00" font-size="10.30">100</tspan></text>
<text transform="translate(476.60,357.50) scale(1.0800,1)" font-family='"Liberation Sans", sans-serif' font-weight="bold" fill="#111" stroke="#111" stroke-width="0.30" stroke-linejoin="round"><tspan x="0.00" y="0.00" font-size="10.30">120</tspan></text>
<text transform="translate(374.90,368.50) scale(0.9945,1)" font-family='"Liberation Sans", sans-serif' font-weight="bold" fill="#111" stroke="#111" stroke-width="0.30" stroke-linejoin="round"><tspan x="0.00" y="0.00" font-size="10.20">Time(s)</tspan></text>
<text transform="translate(285.78,205.00) scale(1.1961,1)" font-family='"Liberation Sans", sans-serif' font-weight="bold" fill="#111" stroke="#111" stroke-width="0.30" stroke-linejoin="round"><tspan x="0.00" y="0.00" font-size="11.50">(d)</tspan></text>
<text transform="translate(257.50,287.70) rotate(-90) scale(1.0488,1) translate(-0.57,0)" font-family='"Liberation Sans", sans-serif' font-weight="bold" fill="#111" stroke="#111" stroke-width="0.45" stroke-linejoin="round"><tspan x="0.00" y="0.00" font-size="14.30">ΔR/R</tspan><tspan x="34.91" y="2.80" font-size="8.60">0</tspan></text>
<polyline points="287.10,337.62 287.28,331.90 287.47,327.05 287.65,323.81 287.83,322.67 288.01,323.81 288.20,327.05 288.38,331.90 288.56,337.62 288.75,331.40 288.93,327.22 289.11,324.42 289.30,323.44 289.48,324.42 289.66,327.22 289.84,331.40 290.03,336.34 290.21,331.72 290.39,326.85 290.58,323.59 290.76,322.45 290.94,323.59 291.13,326.85 291.31,331.72 291.49,337.47 291.67,332.49 291.86,327.54 292.04,324.22 292.22,323.06 292.41,324.22 292.59,327.54 292.77,332.49 292.95,338.34 293.14,330.88 293.32,325.57 293.50,322.03 293.69,320.78 293.87,322.03 294.05,325.57 294.24,330.88 294.42,337.14 294.60,333.29 294.78,328.80 294.97,325.81 295.15,324.75 295.33,325.81 295.52,328.80 295.70,333.29 295.88,338.59 296.06,331.73 296.25,325.90 296.43,322.01 296.61,320.65 296.80,322.01 296.98,325.90 297.16,331.73 297.35,338.60 297.53,333.10 297.71,329.83 297.89,327.64 298.08,326.87 298.26,327.64 298.44,329.83 298.63,333.10 298.81,336.97 298.99,329.76 299.18,324.31 299.36,320.67 299.54,319.39 299.72,320.67 299.91,324.31 300.09,329.76 300.27,336.18 300.46,331.39 300.64,326.57 300.82,323.35 301.00,322.22 301.19,323.35 301.37,326.57 301.55,331.39 301.74,337.07 301.92,334.08 302.10,330.41 302.29,327.95 302.47,327.09 302.65,327.95 302.83,330.41 303.02,334.08 303.20,338.41 303.38,333.32 303.57,329.86 303.75,327.54 303.93,326.73 304.11,327.54 304.30,329.86 304.48,333.32 304.66,337.41 304.85,333.32 305.03,329.08 305.21,326.25 305.40,325.25 305.58,326.25 305.76,329.08 305.94,333.32 306.13,338.33 306.31,332.90 306.49,327.93 306.68,324.62 306.86,323.45 307.04,324.62 307.23,327.93 307.41,332.90 307.59,338.76 307.77,331.04 307.96,325.44 308.14,321.69 308.32,320.38 308.51,321.69 308.69,325.44 308.87,331.04 309.05,337.65 309.24,331.54 309.42,326.54 309.60,323.19 309.79,322.02 309.97,323.19 310.15,326.54 310.34,331.54 310.52,337.44 310.70,331.50 310.88,326.42 311.07,323.03 311.25,321.84 311.43,323.03 311.62,326.42 311.80,331.50 311.98,337.49 312.16,332.76 312.35,328.66 312.53,325.92 312.71,324.96 312.90,325.92 313.08,328.66 313.26,332.76 313.45,337.60 313.63,329.63 313.81,324.12 313.99,320.43 314.18,319.14 314.36,320.43 314.54,324.12 314.73,329.63 314.91,336.14 315.09,330.79 315.28,325.89 315.46,322.62 315.64,321.47 315.82,322.62 316.01,325.89 316.19,330.79 316.37,336.57 316.56,333.15 316.74,329.05 316.92,326.31 317.10,325.35 317.29,326.31 317.47,329.05 317.65,333.15 317.84,337.99 318.02,333.69 318.20,329.99 318.39,327.51 318.57,326.64 318.75,327.51 318.93,329.99 319.12,333.69 319.30,338.06" fill="none" stroke="#2a2a2a" stroke-width="0.80" stroke-linejoin="round"/>
<polyline points="319.30,340.02 319.57,329.08 319.85,319.80 320.12,313.60 320.40,311.43 320.67,313.60 320.94,319.80 321.22,329.08 321.49,340.02 321.77,329.34 322.04,320.90 322.32,315.26 322.59,313.28 322.86,315.26 323.14,320.90 323.41,329.34 323.69,339.29 323.96,330.65 324.24,321.22 324.51,314.91 324.78,312.70 325.06,314.91 325.33,321.22 325.61,330.65 325.88,341.77 326.15,329.56 326.43,320.05 326.70,313.70 326.98,311.47 327.25,313.70 327.52,320.05 327.80,329.56 328.07,340.78 328.35,328.92 328.62,320.20 328.90,314.37 329.17,312.33 329.44,314.37 329.72,320.20 329.99,328.92 330.27,339.20 330.54,329.22 330.81,320.33 331.09,314.40 331.36,312.31 331.64,314.40 331.91,320.33 332.19,329.22 332.46,339.70 332.73,330.53 333.01,321.43 333.28,315.34 333.56,313.21 333.83,315.34 334.10,321.43 334.38,330.53 334.65,341.27 334.93,329.98 335.20,320.47 335.48,314.11 335.75,311.88 336.02,314.11 336.30,320.47 336.57,329.98 336.85,341.20 337.12,330.40 337.40,320.91 337.67,314.57 337.94,312.34 338.22,314.57 338.49,320.91 338.77,330.40 339.04,341.59 339.31,330.59 339.59,321.32 339.86,315.12 340.14,312.95 340.41,315.12 340.69,321.32 340.96,330.59 341.23,341.53 341.51,330.40 341.78,321.80 342.06,316.06 342.33,314.04 342.60,316.06 342.88,321.80 343.15,330.40 343.43,340.54 343.70,329.77 343.98,322.26 344.25,317.24 344.52,315.47 344.80,317.24 345.07,322.26 345.35,329.77 345.62,338.63 345.89,330.55 346.17,321.19 346.44,314.94 346.72,312.75 346.99,314.94 347.26,321.19 347.54,330.55 347.81,341.59 348.09,330.59 348.36,322.71 348.64,317.45 348.91,315.60 349.18,317.45 349.46,322.71 349.73,330.59 350.01,339.89 350.28,328.48 350.56,320.35 350.83,314.91 351.10,313.00 351.38,314.91 351.65,320.35 351.93,328.48 352.20,338.08" fill="none" stroke="#e8161c" stroke-width="0.80" stroke-linejoin="round"/>
<polyline points="352.20,340.17 352.49,318.05 352.78,299.30 353.07,286.77 353.35,282.37 353.64,286.77 353.93,299.30 354.22,318.05 354.51,340.17 354.80,317.31 355.08,298.72 355.37,286.29 355.66,281.92 355.95,286.29 356.24,298.72 356.53,317.31 356.81,339.25 357.10,318.62 357.39,300.21 357.68,287.92 357.97,283.60 358.26,287.92 358.54,300.21 358.83,318.62 359.12,340.33 359.41,318.68 359.70,300.25 359.99,287.94 360.27,283.61 360.56,287.94 360.85,300.25 361.14,318.68 361.43,340.42 361.72,317.99 362.01,300.06 362.29,288.08 362.58,283.87 362.87,288.08 363.16,300.06 363.45,317.99 363.74,339.15 364.02,318.18 364.31,300.03 364.60,287.90 364.89,283.64 365.18,287.90 365.47,300.03 365.75,318.18 366.04,339.58 366.33,318.27 366.62,299.76 366.91,287.40 367.20,283.05 367.48,287.40 367.77,299.76 368.06,318.27 368.35,340.10 368.64,317.36 368.93,299.08 369.22,286.86 369.50,282.57 369.79,286.86 370.08,299.08 370.37,317.36 370.66,338.92 370.95,318.80 371.23,300.24 371.52,287.83 371.81,283.47 372.10,287.83 372.39,300.24 372.68,318.80 372.96,340.70 373.25,318.01 373.54,299.01 373.83,286.32 374.12,281.86 374.41,286.32 374.69,299.01 374.98,318.01 375.27,340.42 375.56,317.19 375.85,298.72 376.14,286.37 376.42,282.04 376.71,286.37 377.00,298.72 377.29,317.19 377.58,338.98 377.87,317.23 378.16,298.82 378.44,286.53 378.73,282.21 379.02,286.53 379.31,298.82 379.60,317.23 379.89,338.95 380.17,317.02 380.46,298.65 380.75,286.38 381.04,282.07 381.33,286.38 381.62,298.65 381.90,317.02 382.19,338.68 382.48,317.88 382.77,298.98 383.06,286.36 383.35,281.92 383.63,286.36 383.92,298.98 384.21,317.88 384.50,340.18" fill="none" stroke="#2626d6" stroke-width="0.80" stroke-linejoin="round"/>
<polyline points="384.50,340.87 384.79,313.44 385.08,290.19 385.38,274.66 385.67,269.20 385.96,274.66 386.25,290.19 386.54,313.44 386.84,340.87 387.13,311.73 387.42,288.77 387.71,273.43 388.00,268.05 388.30,273.43 388.59,288.77 388.88,311.73 389.17,338.81 389.46,313.61 389.76,291.02 390.05,275.93 390.34,270.63 390.63,275.93 390.92,291.02 391.22,313.61 391.51,340.25 391.80,311.83 392.09,289.22 392.38,274.11 392.68,268.81 392.97,274.11 393.26,289.22 393.55,311.83 393.84,338.50 394.13,312.72 394.43,289.49 394.72,273.96 395.01,268.51 395.30,273.96 395.59,289.49 395.89,312.72 396.18,340.13 396.47,312.28 396.76,288.98 397.05,273.41 397.35,267.94 397.64,273.41 397.93,288.98 398.22,312.28 398.51,339.77 398.81,313.72 399.10,290.74 399.39,275.39 399.68,270.00 399.97,275.39 400.27,290.74 400.56,313.72 400.85,340.83 401.14,311.61 401.43,289.35 401.73,274.48 402.02,269.26 402.31,274.48 402.60,289.35 402.89,311.61 403.19,337.86 403.48,312.34 403.77,288.65 404.06,272.82 404.35,267.26 404.65,272.82 404.94,288.65 405.23,312.34 405.52,340.29 405.81,312.42 406.11,289.98 406.40,274.99 406.69,269.72 406.98,274.99 407.27,289.98 407.57,312.42 407.86,338.88 408.15,311.73 408.44,288.46 408.73,272.91 409.02,267.44 409.32,272.91 409.61,288.46 409.90,311.73 410.19,339.19 410.48,312.58 410.78,288.79 411.07,272.89 411.36,267.30 411.65,272.89 411.94,288.79 412.24,312.58 412.53,340.65 412.82,313.09 413.11,289.60 413.40,273.90 413.70,268.39 413.99,273.90 414.28,289.60 414.57,313.09 414.86,340.81 415.16,313.32 415.45,289.89 415.74,274.23 416.03,268.73 416.32,274.23 416.62,289.89 416.91,313.32 417.20,340.96" fill="none" stroke="#ee22ee" stroke-width="0.80" stroke-linejoin="round"/>
<polyline points="417.20,334.16 417.71,292.02 418.22,256.29 418.72,232.42 419.23,224.04 419.74,232.42 420.25,256.29 420.75,292.02 421.26,334.16 421.77,292.71 422.28,256.52 422.79,232.33 423.29,223.84 423.80,232.33 424.31,256.52 424.82,292.71 425.32,335.40 425.83,291.95 426.34,256.26 426.85,232.41 427.36,224.03 427.86,232.41 428.37,256.26 428.88,291.95 429.39,334.05 429.90,291.96 430.40,255.79 430.91,231.62 431.42,223.13 431.93,231.62 432.43,255.79 432.94,291.96 433.45,334.63 433.96,291.87 434.47,255.52 434.97,231.23 435.48,222.70 435.99,231.23 436.50,255.52 437.00,291.87 437.51,334.75 438.02,294.27 438.53,257.13 439.04,232.31 439.54,223.60 440.05,232.31 440.56,257.13 441.07,294.27 441.57,338.09 442.08,292.74 442.59,256.44 443.10,232.19 443.61,223.68 444.11,232.19 444.62,256.44 445.13,292.74 445.64,335.55 446.15,294.25 446.65,257.20 447.16,232.44 447.67,223.75 448.18,232.44 448.68,257.20 449.19,294.25 449.70,337.96" fill="none" stroke="#3f9c3f" stroke-width="0.80" stroke-linejoin="round"/>
<polyline points="451.00,210.60 451.44,214.66 451.88,226.57 452.32,245.51 452.77,270.20 453.21,298.95 453.65,329.80 454.09,298.95 454.53,270.20 454.98,245.51 455.42,226.57 455.86,214.66 456.30,210.60 456.85,214.63 457.40,226.46 457.95,245.28 458.50,269.80 459.05,298.36 459.60,329.00 460.15,298.36 460.70,269.80 461.25,245.28 461.80,226.46 462.35,214.63 462.90,210.60 463.41,214.45 463.92,225.75 464.42,243.73 464.93,267.15 465.44,294.43 465.95,323.70 466.46,294.43 466.97,267.15 467.48,243.73 467.98,225.75 468.49,214.45 469.00,210.60 469.54,214.90 470.08,227.51 470.62,247.56 471.17,273.70 471.71,304.14 472.25,336.80 472.79,304.14 473.33,273.70 473.88,247.56 474.42,227.51 474.96,214.90 475.50,210.60 476.01,214.67 476.52,226.60 477.02,245.57 477.53,270.30 478.04,299.10 478.55,330.00 479.06,299.10 479.57,270.30 480.08,245.57 480.58,226.60 481.09,214.67 481.60,210.60" fill="none" stroke="#2e3192" stroke-width="0.85" stroke-linejoin="round"/>
<text transform="translate(284.35,310.10) scale(0.9973,1)" font-family='"Liberation Sans", sans-serif' font-weight="bold" fill="#111" stroke="#111" stroke-width="0.30" stroke-linejoin="round"><tspan x="0.00" y="0.00" font-size="10.00">0.12kPa</tspan></text>
<text transform="translate(314.06,293.40) scale(0.9676,1)" font-family='"Liberation Sans", sans-serif' font-weight="bold" fill="#e8161c" stroke="#e8161c" stroke-width="0.30" stroke-linejoin="round"><tspan x="0.00" y="0.00" font-size="10.00">0.20kPa</tspan></text>
<text transform="translate(349.36,275.00) scale(0.9730,1)" font-family='"Liberation Sans", sans-serif' font-weight="bold" fill="#2626d6" stroke="#2626d6" stroke-width="0.30" stroke-linejoin="round"><tspan x="0.00" y="0.00" font-size="10.00">0.35kPa</tspan></text>
<text transform="translate(381.16,251.00) scale(0.9730,1)" font-family='"Liberation Sans", sans-serif' font-weight="bold" fill="#ee22ee" stroke="#ee22ee" stroke-width="0.30" stroke-linejoin="round"><tspan x="0.00" y="0.00" font-size="10.00">0.80kPa</tspan></text>
<text transform="translate(413.00,215.90) scale(0.9825,1)" font-family='"Liberation Sans", sans-serif' font-weight="bold" fill="#54a854" stroke="#54a854" stroke-width="0.30" stroke-linejoin="round"><tspan x="0.00" y="0.00" font-size="10.00">3.60kPa</tspan></text>
<text transform="translate(444.11,200.90) scale(0.9812,1)" font-family='"Liberation Sans", sans-serif' font-weight="bold" fill="#2e3192" stroke="#2e3192" stroke-width="0.30" stroke-linejoin="round"><tspan x="0.00" y="0.00" font-size="10.00">20.00kPa</tspan></text>
<path d="M36.3,437.2 L36.9,437.3 L37.5,437.1 L38.1,436.8 L38.7,437.2 L39.3,437.6 L39.9,438.1 L40.5,437.3 L41.1,437.2 L41.7,436.7 L42.3,437.0 L42.9,437.6 L43.5,437.8 L44.1,437.7 L44.7,437.8 L45.3,437.8 L45.9,437.3 L46.5,437.2 L47.1,437.0 L47.7,437.3 L48.3,437.7 L48.9,437.8 L49.5,437.6 L50.1,437.3 L50.7,437.3 L51.3,437.4 L51.9,437.8 L52.5,438.1 L53.1,437.4 L53.7,437.4 L54.3,437.5 L54.9,437.4 L55.5,437.0 L56.1,437.0 L56.7,437.4 L57.3,437.4 L57.9,437.7 L58.5,437.8 L59.1,438.5 L59.7,438.9 L60.3,438.5 L60.9,437.6 L61.5,437.6 L62.1,437.6 L62.7,437.3 L63.3,437.9 L63.9,438.2 L64.5,438.0 L65.1,438.7 L65.7,438.6 L66.3,438.8 L66.9,439.4 L67.5,439.1 L68.1,438.4 L68.7,438.4 L69.3,438.3 L69.9,438.1 L70.5,437.9 L71.1,438.4 L71.7,439.0 L72.3,438.9 L72.9,438.7 L73.5,438.1 L74.1,437.3 L74.7,438.0 L75.3,438.7 L75.9,439.1 L76.5,438.5 L77.1,438.8 L77.7,438.3 L78.3,438.4 L78.9,437.7 L79.5,437.7 L80.1,437.6 L80.7,438.1 L81.3,437.7 L81.9,437.8 L82.5,438.1 L83.1,438.6 L83.7,438.8 L84.3,438.8 L84.9,439.0 L85.5,439.2 L86.1,438.6 L86.7,438.3 L87.3,438.1 L87.9,438.3 L88.5,439.0 L89.1,438.9 L89.7,438.7 L90.3,439.3 L90.9,439.0 L91.5,438.9 L92.1,438.2 L92.7,438.8 L93.3,438.4 L93.9,439.0 L94.5,438.4 L95.1,438.0 L95.7,437.9 L96.3,436.8 L96.9,437.6 L97.5,437.5 L98.1,437.9 L98.7,437.7 L99.3,437.7 L99.9,438.0 L100.5,438.2 L101.1,438.6 L101.7,438.5 L102.3,438.3 L102.9,438.5 L103.5,438.0 L104.1,438.1 L104.7,437.8 L105.3,438.1 L105.9,438.0 L106.5,438.3 L107.1,438.0 L107.7,438.4 L108.3,438.2 L108.9,437.8 L109.5,437.9 L110.1,438.1 L110.7,437.8 L111.3,438.6 L111.9,438.6 L112.5,438.6 L113.1,438.8 L113.7,438.4 L114.3,438.2 L114.9,438.0 L115.5,436.6 L116.1,437.6 L116.7,438.2 L117.3,438.3 L117.9,438.2 L118.5,438.0 L119.1,437.9 L119.7,437.9 L120.3,438.1 L120.9,438.2 L121.5,437.6 L122.1,438.2 L122.7,438.0 L123.3,437.7 L123.9,437.9 L124.5,436.2 L125.1,437.9 L125.7,438.0 L126.3,438.4 L126.9,437.9 L127.5,437.5 L128.1,436.7 L128.7,437.1 L129.3,437.1 L129.9,437.8 L130.5,438.0 L131.1,438.0 L131.7,438.0 L132.3,438.2 L132.9,437.4 L133.5,437.1 L134.1,437.1 L134.7,437.6 L135.3,437.9 L135.9,437.6 L136.5,437.2 L137.1,437.2 L137.7,437.2 L138.3,437.8 L138.9,438.1 L139.5,438.4 L140.1,438.3 L140.7,438.3 L141.3,438.5 L141.9,438.3 L142.5,438.5 L143.1,438.7 L143.7,439.0 L144.3,439.2 L144.9,438.9 L145.5,438.7 L146.1,438.1 L146.7,438.3 L147.3,439.0 L147.9,438.7 L148.5,439.1 L149.1,439.0 L149.7,438.6 L150.3,439.1 L150.9,439.2 L151.5,439.1 L152.1,439.1 L152.7,437.6 L153.3,438.6 L153.9,439.1 L154.5,439.4 L155.1,438.4 L155.7,439.9 L156.3,440.1 L156.9,440.0 L157.5,440.0 L158.1,439.6 L158.7,439.3 L159.3,439.1 L159.9,439.1 L160.5,439.3 L161.1,437.8 L161.7,438.5 L162.3,438.7 L162.9,438.8 L163.5,439.3 L164.1,439.6 L164.7,439.6 L165.3,439.4 L165.9,439.0 L166.5,439.8 L167.1,438.5 L167.7,439.9 L168.3,439.8 L168.9,439.8 L169.5,439.3 L170.1,439.4 L170.7,438.7 L171.3,438.3 L171.9,438.4 L172.5,438.8 L173.1,438.5 L173.7,439.0 L174.3,439.3 L174.9,439.1 L175.5,438.6 L176.1,438.3 L176.7,438.0 L177.3,438.3 L177.9,438.5 L178.5,438.7 L179.1,437.2 L179.7,438.0 L180.3,437.9 L180.9,438.2 L181.5,437.8 L182.1,438.0 L182.7,437.5 L183.3,437.5 L183.9,437.6 L184.5,438.3 L185.1,438.7 L185.7,439.1 L186.3,438.4 L186.9,438.2 L187.5,437.7 L188.1,437.8 L188.7,437.6 L189.3,438.2 L189.9,437.8 L190.5,438.4 L191.1,438.4 L191.7,438.1 L192.3,438.6 L192.9,439.2 L193.5,438.8 L194.1,437.9 L194.7,437.3 L195.3,437.5 L195.9,438.2 L196.5,437.9 L197.1,438.3 L197.7,438.0 L198.3,438.4 L198.9,438.9 L199.5,438.5 L200.1,439.2 L200.7,439.0 L201.3,439.2 L201.9,439.1 L202.5,438.8 L203.1,439.3 L203.7,439.0 L204.3,438.4 L204.9,437.1 L205.5,438.0 L206.1,438.1 L206.7,438.1 L207.3,438.0 L207.9,438.2 L208.5,438.1 L209.1,438.5 L209.7,438.2 L210.3,438.1 L210.9,439.4 L211.5,439.0 L212.1,439.6 L212.7,439.5 L213.3,439.2 L213.9,438.3 L214.5,437.9 L215.1,437.9 L215.7,438.4 L216.3,438.1 L216.9,438.0 L217.5,438.1 L218.1,438.0 L218.7,437.9 L219.3,437.9 L219.9,438.5 L220.5,438.2 L221.1,438.8 L221.7,438.5 L222.3,438.6 L222.9,438.9 L223.5,438.7 L224.1,438.7 L224.7,438.9 L225.3,438.6 L225.9,438.5 L226.5,438.2 L227.1,438.2 L227.7,438.5 L228.3,438.5 L228.9,438.9 L229.5,438.4 L230.1,438.9 L230.7,438.6 L231.3,439.0 L231.9,439.0 L232.5,438.9 L233.1,439.0 L233.7,439.9 L234.3,439.6 L234.9,439.6 L235.5,439.4 L236.1,439.2 L236.7,439.5 L237.3,439.5 L237.9,438.9 L238.5,439.3 L239.1,439.1 L239.7,439.4 L240.3,439.3 L240.9,439.2 L241.5,439.2 L242.1,438.9 L242.7,439.0 L243.3,438.4 L243.9,438.7 L244.5,439.7 L245.1,440.3 L245.7,439.9 L246.3,439.6 L246.9,439.6 L247.5,438.3 L248.1,439.8 L248.7,439.7 L249.3,438.2 L249.9,439.8 L250.5,439.9 L251.1,439.9 L251.7,439.6 L252.3,439.1 L252.9,439.2 L253.5,439.3 L254.1,439.2 L254.7,439.0 L255.3,438.6 L255.9,438.6 L256.5,439.4 L257.1,439.2 L257.7,439.8 L258.3,439.5 L258.9,438.2 L259.5,438.6 L260.1,438.6 L260.7,438.6 L261.3,437.8 L261.9,438.9 L262.5,439.3 L263.1,439.4 L263.7,439.4 L264.3,438.8 L264.9,437.3 L265.5,439.3 L266.1,439.6 L266.7,439.4 L267.3,439.3 L267.9,438.8 L268.5,438.9 L269.1,439.2 L269.7,439.2 L270.3,439.2 L270.9,439.3 L271.5,438.9 L272.1,438.9 L272.7,438.9 L273.3,439.2 L273.9,439.2 L274.5,439.6 L275.1,439.6 L275.7,439.7 L276.3,439.6 L276.9,439.2 L277.5,439.0 L278.1,439.2 L278.7,440.2 L279.3,440.4 L279.9,440.7 L280.5,440.4 L281.1,440.0 L281.7,439.6 L282.3,439.4 L282.9,439.4 L283.5,439.5 L284.1,439.1 L284.7,439.2 L285.3,439.6 L285.9,439.7 L286.5,439.6 L287.1,439.5 L287.7,438.6 L288.3,439.4 L288.9,437.8 L289.5,439.4 L290.1,439.6 L290.7,439.8 L291.3,440.4 L291.9,440.6 L292.5,440.5 L293.1,440.6 L293.7,441.2 L294.3,440.7 L294.9,440.1 L295.5,439.6 L296.1,440.0 L296.7,440.1 L297.3,439.9 L297.9,439.6 L298.5,439.6 L299.1,439.6 L299.7,439.1 L300.3,439.0 L300.9,439.2 L301.5,439.4 L302.1,439.8 L302.7,438.3 L303.3,440.0 L303.9,439.9 L304.5,439.7 L305.1,439.8 L305.7,440.7 L306.3,440.6 L306.9,440.5 L307.5,439.7 L308.1,439.3 L308.7,439.6 L309.3,439.2 L309.9,439.6 L310.5,439.8 L311.1,440.2 L311.7,440.8 L312.3,440.7 L312.9,440.6 L313.5,440.5 L314.1,439.7 L314.7,439.7 L315.3,439.3 L315.9,440.1 L316.5,439.8 L317.1,440.0 L317.7,439.7 L318.3,439.6 L318.9,439.6 L319.5,439.9 L320.1,440.1 L320.7,440.6 L321.3,440.9 L321.9,440.7 L322.5,440.9 L323.1,441.3 L323.7,441.1 L324.3,440.6 L324.9,440.9 L325.5,440.6 L326.1,440.5 L326.7,440.2 L327.3,439.9 L327.9,438.5 L328.5,439.8 L329.1,439.9 L329.7,440.4 L330.3,439.7 L330.9,440.2 L331.5,439.5 L332.1,440.0 L332.7,440.7 L333.3,441.0 L333.9,440.6 L334.5,440.2 L335.1,440.4 L335.7,440.5 L336.3,441.0 L336.9,440.6 L337.5,440.5 L338.1,440.6 L338.7,439.7 L339.3,439.9 L339.9,440.2 L340.5,440.1 L341.1,439.9 L341.7,440.3 L342.3,440.6 L342.9,441.4 L343.5,441.0 L344.1,441.4 L344.7,441.5 L345.3,441.0 L345.9,440.9 L346.5,441.3 L347.1,441.1 L347.7,440.8 L348.3,441.1 L348.9,440.9 L349.5,440.9 L350.1,440.6 L350.7,441.1 L351.3,441.2 L351.9,439.1 L352.5,440.6 L353.1,439.6 L353.7,440.0 L354.3,440.3 L354.9,440.8 L355.5,440.7 L356.1,440.2 L356.7,440.1 L357.3,440.0 L357.9,439.8 L358.5,440.0 L359.1,439.4 L359.7,439.9 L360.3,439.8 L360.9,440.0 L361.5,440.2 L362.1,440.2 L362.7,440.0 L363.3,440.0 L363.9,440.0 L364.5,440.6 L365.1,440.3 L365.7,440.7 L366.3,441.2 L366.9,441.1 L367.5,441.1 L368.1,440.8 L368.7,440.8 L369.3,440.4 L369.9,441.1 L370.5,441.4 L371.1,441.7 L371.7,441.3 L372.3,441.2 L372.9,439.7 L373.5,441.5 L374.1,441.6 L374.7,441.4 L375.3,440.9 L375.9,440.7 L376.5,440.5 L377.1,439.3 L377.7,440.4 L378.3,440.4 L378.9,440.3 L379.5,439.9 L380.1,440.4 L380.7,440.0 L381.3,440.2 L381.9,440.0 L382.5,440.3 L383.1,439.9 L383.7,440.0 L384.3,440.2 L384.9,440.4 L385.5,441.2 L386.1,441.1 L386.7,441.1 L387.3,441.4 L387.9,441.7 L388.5,441.4 L389.1,441.1 L389.7,441.3 L390.3,441.0 L390.9,441.0 L391.5,440.5 L392.1,440.9 L392.7,441.2 L393.3,441.4 L393.9,441.5 L394.5,441.0 L395.1,440.7 L395.7,440.2 L396.3,439.8 L396.9,440.7 L397.5,440.8 L398.1,441.4 L398.7,441.1 L399.3,441.6 L399.9,441.5 L400.5,441.3 L401.1,441.7 L401.7,441.8 L402.3,441.2 L402.9,441.6 L403.5,440.1 L404.1,441.2 L404.7,441.2 L405.3,440.9 L405.9,440.8 L406.5,440.7 L407.1,440.9 L407.7,441.3 L408.3,441.4 L408.9,441.7 L409.5,441.7 L410.1,441.7 L410.7,441.1 L411.3,441.4 L411.9,441.7 L412.5,440.8 L413.1,442.3 L413.7,442.0 L414.3,442.2 L414.9,442.0 L415.5,441.8 L416.1,441.5 L416.7,441.1 L417.3,441.2 L417.9,441.6 L418.5,441.7 L419.1,441.9 L419.7,442.3 L420.3,442.6 L420.9,442.0 L421.5,442.1 L422.1,441.6 L422.7,441.3 L423.3,441.3 L423.9,441.3 L424.5,440.9 L425.1,440.7 L425.7,441.1 L426.3,440.8 L426.9,440.6 L427.5,441.7 L428.1,441.8 L428.7,442.6 L429.3,442.2 L429.9,442.5 L430.5,442.1 L431.1,441.5 L431.7,440.8 L432.3,440.6 L432.9,440.9 L433.5,441.3 L434.1,440.9 L434.7,441.2 L435.3,439.7 L435.9,440.9 L436.5,440.4 L437.1,440.3 L437.7,440.3 L438.3,440.4 L438.9,439.6 L439.5,439.7 L440.1,440.0 L440.7,440.2 L441.3,438.3 L441.9,439.5 L442.5,439.8 L443.1,439.6 L443.7,439.1 L444.3,438.7 L444.9,439.3 L445.5,439.5 L446.1,440.4 L446.7,439.8 L447.3,440.7 L447.9,440.0 L448.5,440.3 L449.1,439.8 L449.7,439.8 L450.3,440.1 L450.9,440.3 L451.5,440.1 L452.1,440.3 L452.7,440.1 L453.3,439.9 L453.9,439.5 L454.5,439.6 L455.1,439.9 L455.7,440.5 L456.3,440.6 L456.9,439.9 L457.5,440.3 L458.1,440.0 L458.7,439.1 L459.3,439.3 L459.9,437.7 L460.5,439.2 L461.1,439.2 L461.7,439.2 L462.3,439.0 L462.9,439.1 L463.5,439.2 L464.1,439.0 L464.7,439.1 L465.3,439.2 L465.9,439.4 L466.5,439.3 L467.1,439.5 L467.7,439.2 L468.3,438.8 L468.9,439.3 L469.5,439.4 L470.1,439.2 L470.7,438.8 L471.3,438.8 L471.9,438.4 L472.5,438.9 L473.1,439.5 L473.7,439.8 L474.3,439.7 L474.9,439.4 L475.5,438.7 L476.1,439.2 L476.7,438.8 L477.3,439.3 L477.9,439.4 L478.5,439.3 L479.1,439.0 L479.7,438.1 L480.3,439.6 L480.9,440.2 L481.5,439.3 L482.1,439.5 L482.7,439.3 L483.3,439.4 L483.9,439.8 L484.5,439.6 L485.1,439.9 L485.7,439.3 L486.3,439.4 L486.9,439.3 L487.5,438.8 L488.1,439.3 L488.7,439.3 L489.3,438.7 L489.9,438.9 L490.5,438.9 L491.1,438.1 L491.7,438.3 L492.3,438.1 L492.9,438.8 L493.5,438.5 L494.1,438.6 L494.7,438.7 L495.3,438.1 L495.9,438.0 L496.5,438.0 L497.1,437.8 L497.3,438.1 L497.3,470.6 L497.1,470.7 L496.5,471.2 L495.9,470.9 L495.3,471.4 L494.7,471.0 L494.1,471.4 L493.5,471.6 L492.9,471.4 L492.3,471.9 L491.7,471.6 L491.1,471.4 L490.5,471.8 L489.9,471.6 L489.3,471.6 L488.7,471.3 L488.1,471.1 L487.5,471.1 L486.9,471.2 L486.3,471.3 L485.7,471.1 L485.1,470.9 L484.5,470.9 L483.9,470.9 L483.3,471.6 L482.7,472.0 L482.1,471.7 L481.5,471.5 L480.9,471.0 L480.3,470.8 L479.7,471.0 L479.1,471.1 L478.5,471.4 L477.9,471.5 L477.3,471.7 L476.7,471.3 L476.1,470.9 L475.5,470.8 L474.9,470.7 L474.3,470.5 L473.7,470.7 L473.1,470.9 L472.5,470.5 L471.9,470.1 L471.3,470.9 L470.7,471.2 L470.1,471.7 L469.5,471.7 L468.9,470.9 L468.3,471.6 L467.7,470.7 L467.1,471.5 L466.5,472.1 L465.9,471.6 L465.3,471.1 L464.7,471.1 L464.1,470.8 L463.5,471.1 L462.9,470.6 L462.3,471.2 L461.7,471.2 L461.1,471.1 L460.5,471.1 L459.9,471.5 L459.3,471.5 L458.7,471.8 L458.1,471.3 L457.5,472.5 L456.9,471.6 L456.3,471.5 L455.7,471.1 L455.1,471.5 L454.5,471.5 L453.9,471.7 L453.3,471.1 L452.7,470.6 L452.1,470.6 L451.5,471.0 L450.9,471.0 L450.3,471.0 L449.7,471.2 L449.1,470.9 L448.5,470.6 L447.9,470.8 L447.3,471.2 L446.7,471.0 L446.1,471.1 L445.5,471.1 L444.9,471.3 L444.3,471.3 L443.7,471.1 L443.1,470.4 L442.5,470.6 L441.9,470.8 L441.3,470.6 L440.7,471.0 L440.1,471.7 L439.5,472.0 L438.9,471.2 L438.3,471.2 L437.7,470.6 L437.1,470.7 L436.5,471.5 L435.9,471.6 L435.3,471.4 L434.7,469.8 L434.1,468.8 L433.5,468.5 L432.9,468.2 L432.3,467.8 L431.7,466.8 L431.1,466.1 L430.5,466.3 L429.9,466.8 L429.3,466.6 L428.7,467.4 L428.1,467.1 L427.5,466.9 L426.9,466.8 L426.3,466.3 L425.7,466.5 L425.1,466.8 L424.5,466.1 L423.9,465.8 L423.3,466.0 L422.7,466.2 L422.1,466.7 L421.5,467.3 L420.9,467.2 L420.3,467.6 L419.7,466.8 L419.1,466.9 L418.5,466.5 L417.9,466.2 L417.3,466.0 L416.7,466.2 L416.1,466.1 L415.5,465.6 L414.9,466.2 L414.3,466.0 L413.7,466.6 L413.1,466.8 L412.5,467.5 L411.9,467.1 L411.3,466.6 L410.7,465.7 L410.1,468.0 L409.5,466.9 L408.9,467.4 L408.3,466.6 L407.7,466.7 L407.1,466.3 L406.5,466.4 L405.9,468.1 L405.3,467.5 L404.7,467.3 L404.1,467.5 L403.5,468.2 L402.9,467.8 L402.3,468.0 L401.7,467.3 L401.1,468.0 L400.5,468.6 L399.9,468.9 L399.3,468.4 L398.7,468.5 L398.1,467.7 L397.5,468.2 L396.9,467.9 L396.3,468.1 L395.7,467.4 L395.1,467.3 L394.5,467.3 L393.9,467.8 L393.3,468.1 L392.7,469.8 L392.1,468.2 L391.5,468.4 L390.9,468.7 L390.3,468.5 L389.7,468.0 L389.1,467.7 L388.5,468.1 L387.9,468.7 L387.3,469.0 L386.7,469.7 L386.1,467.8 L385.5,467.7 L384.9,467.5 L384.3,468.0 L383.7,467.7 L383.1,467.7 L382.5,468.1 L381.9,468.5 L381.3,467.7 L380.7,467.5 L380.1,467.4 L379.5,467.7 L378.9,467.1 L378.3,467.7 L377.7,467.1 L377.1,467.3 L376.5,466.7 L375.9,467.5 L375.3,467.3 L374.7,467.4 L374.1,467.9 L373.5,467.9 L372.9,467.8 L372.3,468.9 L371.7,467.1 L371.1,467.0 L370.5,467.4 L369.9,467.8 L369.3,468.0 L368.7,467.9 L368.1,467.6 L367.5,466.6 L366.9,467.3 L366.3,466.7 L365.7,467.2 L365.1,466.9 L364.5,469.0 L363.9,467.0 L363.3,467.3 L362.7,467.9 L362.1,467.7 L361.5,467.7 L360.9,468.0 L360.3,468.0 L359.7,468.3 L359.1,468.8 L358.5,467.8 L357.9,468.0 L357.3,467.7 L356.7,467.9 L356.1,469.3 L355.5,468.2 L354.9,468.1 L354.3,469.0 L353.7,467.0 L353.1,466.6 L352.5,466.7 L351.9,466.9 L351.3,467.0 L350.7,466.5 L350.1,466.8 L349.5,466.6 L348.9,467.1 L348.3,467.0 L347.7,468.6 L347.1,467.0 L346.5,468.0 L345.9,467.9 L345.3,468.0 L344.7,468.3 L344.1,469.4 L343.5,468.2 L342.9,467.8 L342.3,467.9 L341.7,467.3 L341.1,467.1 L340.5,466.3 L339.9,468.4 L339.3,467.5 L338.7,467.8 L338.1,468.2 L337.5,468.0 L336.9,467.8 L336.3,468.1 L335.7,468.2 L335.1,468.1 L334.5,467.4 L333.9,467.1 L333.3,467.4 L332.7,468.7 L332.1,467.5 L331.5,467.7 L330.9,466.9 L330.3,467.1 L329.7,466.8 L329.1,467.2 L328.5,467.2 L327.9,467.6 L327.3,467.4 L326.7,467.5 L326.1,468.0 L325.5,468.0 L324.9,467.4 L324.3,467.5 L323.7,467.5 L323.1,467.7 L322.5,468.0 L321.9,467.4 L321.3,466.9 L320.7,466.3 L320.1,466.8 L319.5,467.4 L318.9,466.4 L318.3,466.5 L317.7,466.2 L317.1,466.9 L316.5,467.0 L315.9,466.8 L315.3,467.2 L314.7,467.3 L314.1,467.3 L313.5,467.6 L312.9,467.2 L312.3,466.7 L311.7,466.1 L311.1,466.1 L310.5,466.6 L309.9,466.4 L309.3,466.4 L308.7,466.6 L308.1,466.3 L307.5,468.7 L306.9,467.1 L306.3,467.7 L305.7,468.8 L305.1,466.9 L304.5,466.5 L303.9,466.1 L303.3,466.4 L302.7,467.1 L302.1,466.7 L301.5,466.6 L300.9,466.1 L300.3,466.5 L299.7,466.5 L299.1,466.2 L298.5,466.5 L297.9,467.1 L297.3,468.2 L296.7,466.7 L296.1,468.4 L295.5,467.0 L294.9,466.9 L294.3,466.6 L293.7,466.7 L293.1,466.5 L292.5,466.8 L291.9,467.0 L291.3,467.2 L290.7,467.0 L290.1,466.9 L289.5,467.2 L288.9,467.3 L288.3,467.2 L287.7,466.7 L287.1,466.8 L286.5,467.7 L285.9,466.4 L285.3,467.0 L284.7,467.5 L284.1,467.3 L283.5,466.7 L282.9,468.4 L282.3,467.6 L281.7,466.8 L281.1,466.7 L280.5,466.4 L279.9,466.9 L279.3,466.7 L278.7,466.5 L278.1,467.0 L277.5,467.0 L276.9,466.3 L276.3,466.1 L275.7,466.0 L275.1,465.9 L274.5,466.0 L273.9,466.1 L273.3,466.0 L272.7,466.6 L272.1,467.1 L271.5,466.7 L270.9,466.4 L270.3,465.5 L269.7,466.3 L269.1,466.5 L268.5,466.6 L267.9,466.6 L267.3,466.6 L266.7,466.5 L266.1,466.6 L265.5,466.8 L264.9,466.7 L264.3,466.2 L263.7,465.9 L263.1,465.4 L262.5,465.8 L261.9,465.4 L261.3,465.4 L260.7,465.4 L260.1,465.4 L259.5,465.4 L258.9,465.6 L258.3,465.9 L257.7,466.8 L257.1,466.3 L256.5,466.1 L255.9,465.0 L255.3,465.6 L254.7,466.2 L254.1,466.8 L253.5,466.7 L252.9,466.4 L252.3,465.9 L251.7,465.7 L251.1,465.6 L250.5,465.4 L249.9,466.9 L249.3,465.8 L248.7,465.5 L248.1,466.0 L247.5,466.0 L246.9,467.5 L246.3,465.8 L245.7,465.4 L245.1,465.5 L244.5,465.8 L243.9,465.4 L243.3,465.8 L242.7,465.3 L242.1,465.0 L241.5,465.3 L240.9,465.5 L240.3,465.3 L239.7,465.5 L239.1,466.1 L238.5,466.3 L237.9,466.9 L237.3,466.3 L236.7,465.8 L236.1,465.9 L235.5,465.9 L234.9,465.5 L234.3,466.0 L233.7,465.8 L233.1,465.5 L232.5,465.2 L231.9,464.5 L231.3,464.5 L230.7,464.6 L230.1,464.4 L229.5,466.7 L228.9,464.5 L228.3,464.5 L227.7,464.9 L227.1,464.3 L226.5,464.9 L225.9,464.4 L225.3,464.9 L224.7,464.5 L224.1,464.6 L223.5,464.9 L222.9,465.1 L222.3,465.5 L221.7,465.3 L221.1,465.4 L220.5,466.7 L219.9,465.4 L219.3,465.5 L218.7,465.5 L218.1,465.5 L217.5,466.2 L216.9,467.0 L216.3,467.5 L215.7,465.2 L215.1,464.9 L214.5,464.9 L213.9,464.3 L213.3,465.0 L212.7,465.1 L212.1,465.7 L211.5,465.6 L210.9,465.5 L210.3,465.4 L209.7,465.6 L209.1,465.5 L208.5,466.2 L207.9,464.7 L207.3,464.3 L206.7,464.5 L206.1,464.3 L205.5,464.7 L204.9,464.8 L204.3,464.7 L203.7,464.2 L203.1,464.2 L202.5,464.1 L201.9,464.4 L201.3,464.6 L200.7,466.7 L200.1,465.2 L199.5,465.4 L198.9,465.2 L198.3,465.2 L197.7,465.0 L197.1,464.9 L196.5,464.9 L195.9,465.1 L195.3,465.1 L194.7,465.0 L194.1,466.3 L193.5,464.7 L192.9,463.9 L192.3,463.8 L191.7,463.9 L191.1,463.7 L190.5,464.5 L189.9,465.2 L189.3,465.6 L188.7,464.9 L188.1,465.2 L187.5,464.8 L186.9,464.4 L186.3,463.9 L185.7,463.6 L185.1,464.0 L184.5,464.8 L183.9,465.2 L183.3,465.0 L182.7,464.2 L182.1,463.6 L181.5,463.8 L180.9,463.9 L180.3,464.3 L179.7,464.0 L179.1,464.4 L178.5,464.3 L177.9,464.3 L177.3,464.4 L176.7,464.3 L176.1,464.4 L175.5,463.9 L174.9,463.6 L174.3,464.0 L173.7,464.9 L173.1,465.0 L172.5,464.8 L171.9,464.5 L171.3,463.6 L170.7,464.5 L170.1,464.5 L169.5,464.8 L168.9,465.2 L168.3,464.9 L167.7,465.4 L167.1,464.9 L166.5,464.6 L165.9,465.2 L165.3,464.4 L164.7,464.5 L164.1,464.2 L163.5,464.6 L162.9,464.1 L162.3,463.9 L161.7,464.3 L161.1,464.3 L160.5,464.3 L159.9,464.3 L159.3,464.6 L158.7,464.1 L158.1,464.3 L157.5,463.7 L156.9,463.2 L156.3,463.4 L155.7,463.3 L155.1,463.7 L154.5,463.4 L153.9,463.8 L153.3,463.6 L152.7,463.9 L152.1,464.2 L151.5,464.6 L150.9,464.9 L150.3,464.6 L149.7,464.9 L149.1,466.5 L148.5,464.5 L147.9,464.0 L147.3,464.1 L146.7,463.8 L146.1,463.5 L145.5,463.4 L144.9,463.5 L144.3,463.4 L143.7,463.6 L143.1,463.2 L142.5,463.6 L141.9,464.1 L141.3,464.0 L140.7,464.5 L140.1,464.4 L139.5,463.5 L138.9,462.9 L138.3,463.1 L137.7,463.4 L137.1,463.9 L136.5,465.4 L135.9,463.6 L135.3,463.7 L134.7,463.8 L134.1,465.4 L133.5,463.0 L132.9,463.6 L132.3,464.0 L131.7,464.1 L131.1,463.6 L130.5,464.1 L129.9,464.1 L129.3,463.5 L128.7,463.5 L128.1,463.3 L127.5,463.2 L126.9,463.3 L126.3,463.3 L125.7,464.2 L125.1,464.8 L124.5,463.1 L123.9,462.8 L123.3,463.0 L122.7,463.3 L122.1,463.0 L121.5,462.9 L120.9,462.6 L120.3,463.0 L119.7,463.5 L119.1,463.0 L118.5,462.9 L117.9,463.6 L117.3,463.8 L116.7,463.6 L116.1,463.6 L115.5,463.3 L114.9,463.2 L114.3,462.9 L113.7,463.3 L113.1,463.2 L112.5,463.9 L111.9,464.3 L111.3,464.2 L110.7,464.1 L110.1,463.8 L109.5,463.3 L108.9,463.3 L108.3,463.4 L107.7,463.8 L107.1,463.5 L106.5,463.8 L105.9,463.8 L105.3,463.4 L104.7,462.7 L104.1,462.7 L103.5,462.7 L102.9,462.8 L102.3,462.6 L101.7,462.6 L101.1,462.3 L100.5,462.7 L99.9,462.8 L99.3,462.9 L98.7,463.3 L98.1,463.9 L97.5,463.5 L96.9,463.9 L96.3,463.6 L95.7,463.8 L95.1,463.7 L94.5,464.4 L93.9,464.3 L93.3,464.2 L92.7,464.2 L92.1,463.8 L91.5,463.5 L90.9,463.4 L90.3,463.0 L89.7,463.4 L89.1,463.4 L88.5,464.0 L87.9,463.9 L87.3,463.3 L86.7,462.4 L86.1,463.1 L85.5,463.1 L84.9,466.1 L84.3,463.5 L83.7,463.1 L83.1,464.9 L82.5,463.1 L81.9,462.9 L81.3,463.6 L80.7,463.6 L80.1,463.6 L79.5,465.7 L78.9,463.6 L78.3,463.3 L77.7,462.9 L77.1,463.3 L76.5,463.5 L75.9,463.7 L75.3,463.7 L74.7,463.7 L74.1,464.3 L73.5,463.6 L72.9,463.3 L72.3,464.1 L71.7,463.3 L71.1,465.0 L70.5,463.9 L69.9,463.7 L69.3,463.6 L68.7,463.2 L68.1,463.0 L67.5,463.3 L66.9,463.6 L66.3,463.7 L65.7,463.8 L65.1,464.4 L64.5,463.7 L63.9,462.9 L63.3,462.5 L62.7,462.7 L62.1,463.4 L61.5,463.9 L60.9,463.6 L60.3,463.6 L59.7,463.5 L59.1,463.2 L58.5,462.9 L57.9,463.1 L57.3,463.2 L56.7,463.3 L56.1,463.8 L55.5,463.2 L54.9,463.9 L54.3,463.0 L53.7,463.2 L53.1,463.5 L52.5,463.2 L51.9,462.9 L51.3,463.5 L50.7,462.8 L50.1,463.0 L49.5,462.9 L48.9,462.1 L48.3,462.6 L47.7,462.8 L47.1,463.5 L46.5,463.0 L45.9,462.5 L45.3,462.1 L44.7,462.5 L44.1,465.1 L43.5,463.8 L42.9,463.3 L42.3,463.1 L41.7,463.0 L41.1,463.6 L40.5,463.5 L39.9,463.4 L39.3,463.2 L38.7,462.9 L38.1,462.2 L37.5,462.0 L36.9,462.4 L36.3,462.3 Z" fill="#030303"/>
<line x1="35.60" y1="376.00" x2="498.00" y2="376.00" stroke="#6a6a6a" stroke-width="1.40"/>
<line x1="35.60" y1="375.40" x2="35.60" y2="523.40" stroke="#2a2a2a" stroke-width="1.30"/>
<line x1="498.00" y1="375.40" x2="498.00" y2="523.40" stroke="#1a1a1a" stroke-width="1.30"/>
<line x1="35.00" y1="523.40" x2="498.60" y2="523.40" stroke="#1a1a1a" stroke-width="1.30"/>
<line x1="35.60" y1="508.39" x2="37.80" y2="508.39" stroke="#1e1e1e" stroke-width="1.00"/>
<line x1="35.60" y1="493.66" x2="37.80" y2="493.66" stroke="#1e1e1e" stroke-width="1.00"/>
<line x1="35.60" y1="478.93" x2="37.80" y2="478.93" stroke="#1e1e1e" stroke-width="1.00"/>
<line x1="35.60" y1="464.20" x2="37.80" y2="464.20" stroke="#1e1e1e" stroke-width="1.00"/>
<line x1="35.60" y1="449.47" x2="37.80" y2="449.47" stroke="#1e1e1e" stroke-width="1.00"/>
<line x1="35.60" y1="434.74" x2="37.80" y2="434.74" stroke="#1e1e1e" stroke-width="1.00"/>
<line x1="35.60" y1="420.01" x2="37.80" y2="420.01" stroke="#1e1e1e" stroke-width="1.00"/>
<line x1="35.60" y1="405.28" x2="37.80" y2="405.28" stroke="#1e1e1e" stroke-width="1.00"/>
<line x1="35.60" y1="390.55" x2="37.80" y2="390.55" stroke="#1e1e1e" stroke-width="1.00"/>
<line x1="35.60" y1="375.82" x2="37.80" y2="375.82" stroke="#1e1e1e" stroke-width="1.00"/>
<line x1="93.40" y1="523.40" x2="93.40" y2="521.20" stroke="#1e1e1e" stroke-width="1.00"/>
<line x1="151.20" y1="523.40" x2="151.20" y2="521.20" stroke="#1e1e1e" stroke-width="1.00"/>
<line x1="209.00" y1="523.40" x2="209.00" y2="521.20" stroke="#1e1e1e" stroke-width="1.00"/>
<line x1="266.80" y1="523.40" x2="266.80" y2="521.20" stroke="#1e1e1e" stroke-width="1.00"/>
<line x1="324.60" y1="523.40" x2="324.60" y2="521.20" stroke="#1e1e1e" stroke-width="1.00"/>
<line x1="382.40" y1="523.40" x2="382.40" y2="521.20" stroke="#1e1e1e" stroke-width="1.00"/>
<line x1="440.20" y1="523.40" x2="440.20" y2="521.20" stroke="#1e1e1e" stroke-width="1.00"/>
<text transform="translate(17.50,381.70) scale(1.0400,1)" font-family='"Liberation Sans", sans-serif' font-weight="bold" fill="#111" stroke="#111" stroke-width="0.30" stroke-linejoin="round"><tspan x="0.00" y="0.00" font-size="10.00">1.8</tspan></text>
<text transform="translate(17.61,409.00) scale(1.0400,1)" font-family='"Liberation Sans", sans-serif' font-weight="bold" fill="#111" stroke="#111" stroke-width="0.30" stroke-linejoin="round"><tspan x="0.00" y="0.00" font-size="10.00">1.2</tspan></text>
<text transform="translate(17.61,439.00) scale(1.0400,1)" font-family='"Liberation Sans", sans-serif' font-weight="bold" fill="#111" stroke="#111" stroke-width="0.30" stroke-linejoin="round"><tspan x="0.00" y="0.00" font-size="10.00">0.6</tspan></text>
<text transform="translate(17.61,467.80) scale(1.0400,1)" font-family='"Liberation Sans", sans-serif' font-weight="bold" fill="#111" stroke="#111" stroke-width="0.30" stroke-linejoin="round"><tspan x="0.00" y="0.00" font-size="10.00">0.0</tspan></text>
<text transform="translate(14.18,497.90) scale(1.0400,1)" font-family='"Liberation Sans", sans-serif' font-weight="bold" fill="#111" stroke="#111" stroke-width="0.30" stroke-linejoin="round"><tspan x="0.00" y="0.00" font-size="10.00">-0.6</tspan></text>
<text transform="translate(14.18,525.60) scale(1.0400,1)" font-family='"Liberation Sans", sans-serif' font-weight="bold" fill="#111" stroke="#111" stroke-width="0.30" stroke-linejoin="round"><tspan x="0.00" y="0.00" font-size="10.00">-1.2</tspan></text>
<text transform="translate(30.33,534.00) scale(0.9920,1)" font-family='"Liberation Sans", sans-serif' font-weight="bold" fill="#111" stroke="#111" stroke-width="0.30" stroke-linejoin="round"><tspan x="0.00" y="0.00" font-size="10.60">0</tspan></text>
<text transform="translate(141.04,534.00) scale(1.0335,1)" font-family='"Liberation Sans", sans-serif' font-weight="bold" fill="#111" stroke="#111" stroke-width="0.30" stroke-linejoin="round"><tspan x="0.00" y="0.00" font-size="10.60">100</tspan></text>
<text transform="translate(259.07,534.00) scale(1.0377,1)" font-family='"Liberation Sans", sans-serif' font-weight="bold" fill="#111" stroke="#111" stroke-width="0.30" stroke-linejoin="round"><tspan x="0.00" y="0.00" font-size="10.60">200</tspan></text>
<text transform="translate(372.20,534.00) scale(0.9610,1)" font-family='"Liberation Sans", sans-serif' font-weight="bold" fill="#111" stroke="#111" stroke-width="0.30" stroke-linejoin="round"><tspan x="0.00" y="0.00" font-size="10.60">300</tspan></text>
<text transform="translate(488.94,536.30) scale(0.9989,1)" font-family='"Liberation Sans", sans-serif' font-weight="bold" fill="#111" stroke="#111" stroke-width="0.30" stroke-linejoin="round"><tspan x="0.00" y="0.00" font-size="10.60">400</tspan></text>
<text transform="translate(253.30,544.40) scale(1.0195,1)" font-family='"Liberation Sans", sans-serif' font-weight="bold" fill="#111" stroke="#111" stroke-width="0.30" stroke-linejoin="round"><tspan x="0.00" y="0.00" font-size="10.20">Time (s)</tspan></text>
<text transform="translate(44.09,391.10) scale(1.1283,1)" font-family='"Liberation Sans", sans-serif' font-weight="bold" fill="#111" stroke="#111" stroke-width="0.30" stroke-linejoin="round"><tspan x="0.00" y="0.00" font-size="12.00">(e)</tspan></text>
<text transform="translate(15.20,462.30) rotate(-90) scale(1.0360,1) translate(-0.58,0)" font-family='"Liberation Sans", sans-serif' font-weight="bold" fill="#111" stroke="#111" stroke-width="0.45" stroke-linejoin="round"><tspan x="0.00" y="0.00" font-size="14.50">ΔR/R</tspan><tspan x="35.39" y="2.80" font-size="8.60">0</tspan></text>
<rect x="173.90" y="381.60" width="209.80" height="42.00" fill="#fff"/>
<line x1="174.40" y1="382.10" x2="383.20" y2="382.10" stroke="#3a3a3a" stroke-width="1.40"/>
<line x1="174.40" y1="382.10" x2="174.40" y2="423.10" stroke="#333" stroke-width="1.10"/>
<line x1="383.20" y1="382.10" x2="383.20" y2="423.10" stroke="#666" stroke-width="0.90"/>
<line x1="174.40" y1="423.10" x2="383.20" y2="423.10" stroke="#777" stroke-width="0.90"/>
<polyline points="175.50,389.50 182.00,398.00 185.50,409.70 192.00,407.50 195.50,404.00 200.00,390.00 206.00,389.80 210.00,396.00 213.50,410.00 218.50,408.50 224.50,407.00 228.30,389.30 232.50,390.00 235.80,390.00 243.30,409.30 250.00,408.00 254.70,406.00 258.00,388.80 263.30,390.00 268.00,390.00 272.50,411.70 276.70,408.80 282.50,408.00 285.80,392.20 290.80,389.70 296.70,390.50 300.80,408.80 305.00,409.10 312.10,408.20 315.20,398.00 319.50,390.10 325.50,390.10 328.80,394.20 332.90,410.00 339.50,408.20 343.20,401.70 347.80,390.10 358.10,390.50 362.70,410.00 367.40,408.20 372.40,407.30 375.80,399.80 382.30,390.50" fill="none" stroke="#111" stroke-width="1.30" stroke-linejoin="round"/>
<rect x="174.00" y="472.00" width="208.90" height="42.10" fill="#fff"/>
<line x1="174.50" y1="472.50" x2="382.40" y2="472.50" stroke="#3a3a3a" stroke-width="1.40"/>
<line x1="174.50" y1="472.50" x2="174.50" y2="513.60" stroke="#333" stroke-width="1.10"/>
<line x1="382.40" y1="472.50" x2="382.40" y2="513.60" stroke="#666" stroke-width="0.90"/>
<line x1="174.50" y1="513.60" x2="382.40" y2="513.60" stroke="#777" stroke-width="0.90"/>
<polyline points="175.30,482.10 177.00,486.50 181.00,502.40 184.10,503.20 193.80,502.00 195.00,500.60 199.10,484.40 203.50,482.60 208.80,482.60 217.60,503.20 227.00,502.40 230.80,485.80 235.00,483.30 241.70,482.50 244.20,493.30 248.30,504.20 255.80,502.50 257.50,500.00 260.80,485.80 265.00,483.00 270.80,482.50 274.20,495.00 278.00,504.20 285.00,502.00 289.20,498.30 292.50,485.00 298.30,482.50 300.50,485.50 302.90,490.50 307.50,503.80 316.70,501.90 320.60,484.20 324.50,483.00 331.40,482.30 335.30,502.30 340.20,503.20 346.10,501.30 352.90,484.60 360.80,482.30 364.70,503.20 373.50,501.90 382.40,484.60" fill="none" stroke="#111" stroke-width="1.30" stroke-linejoin="round"/>
<line x1="195.30" y1="423.10" x2="195.30" y2="421.60" stroke="#555" stroke-width="0.80"/>
<line x1="195.30" y1="513.60" x2="195.30" y2="512.10" stroke="#555" stroke-width="0.80"/>
<line x1="216.20" y1="423.10" x2="216.20" y2="421.60" stroke="#555" stroke-width="0.80"/>
<line x1="216.20" y1="513.60" x2="216.20" y2="512.10" stroke="#555" stroke-width="0.80"/>
<line x1="237.10" y1="423.10" x2="237.10" y2="421.60" stroke="#555" stroke-width="0.80"/>
<line x1="237.10" y1="513.60" x2="237.10" y2="512.10" stroke="#555" stroke-width="0.80"/>
<line x1="258.00" y1="423.10" x2="258.00" y2="421.60" stroke="#555" stroke-width="0.80"/>
<line x1="258.00" y1="513.60" x2="258.00" y2="512.10" stroke="#555" stroke-width="0.80"/>
<line x1="278.90" y1="423.10" x2="278.90" y2="421.60" stroke="#555" stroke-width="0.80"/>
<line x1="278.90" y1="513.60" x2="278.90" y2="512.10" stroke="#555" stroke-width="0.80"/>
<line x1="299.80" y1="423.10" x2="299.80" y2="421.60" stroke="#555" stroke-width="0.80"/>
<line x1="299.80" y1="513.60" x2="299.80" y2="512.10" stroke="#555" stroke-width="0.80"/>
<line x1="320.70" y1="423.10" x2="320.70" y2="421.60" stroke="#555" stroke-width="0.80"/>
<line x1="320.70" y1="513.60" x2="320.70" y2="512.10" stroke="#555" stroke-width="0.80"/>
<line x1="341.60" y1="423.10" x2="341.60" y2="421.60" stroke="#555" stroke-width="0.80"/>
<line x1="341.60" y1="513.60" x2="341.60" y2="512.10" stroke="#555" stroke-width="0.80"/>
<line x1="362.50" y1="423.10" x2="362.50" y2="421.60" stroke="#555" stroke-width="0.80"/>
<line x1="362.50" y1="513.60" x2="362.50" y2="512.10" stroke="#555" stroke-width="0.80"/>
<text transform="translate(161.27,384.90) scale(1.1000,1)" font-family='"Liberation Sans", sans-serif' font-weight="bold" fill="#111" stroke="#111" stroke-width="0.10" stroke-linejoin="round"><tspan x="0.00" y="0.00" font-size="7.60">0.6</tspan></text>
<text transform="translate(161.27,401.20) scale(1.1000,1)" font-family='"Liberation Sans", sans-serif' font-weight="bold" fill="#111" stroke="#111" stroke-width="0.10" stroke-linejoin="round"><tspan x="0.00" y="0.00" font-size="7.60">0.3</tspan></text>
<text transform="translate(161.27,414.10) scale(1.1000,1)" font-family='"Liberation Sans", sans-serif' font-weight="bold" fill="#111" stroke="#111" stroke-width="0.10" stroke-linejoin="round"><tspan x="0.00" y="0.00" font-size="7.60">0.0</tspan></text>
<text transform="translate(158.51,426.60) scale(1.1000,1)" font-family='"Liberation Sans", sans-serif' font-weight="bold" fill="#111" stroke="#111" stroke-width="0.10" stroke-linejoin="round"><tspan x="0.00" y="0.00" font-size="7.60">-0.3</tspan></text>
<text transform="translate(161.27,479.40) scale(1.1000,1)" font-family='"Liberation Sans", sans-serif' font-weight="bold" fill="#111" stroke="#111" stroke-width="0.10" stroke-linejoin="round"><tspan x="0.00" y="0.00" font-size="7.60">0.6</tspan></text>
<text transform="translate(161.27,491.00) scale(1.1000,1)" font-family='"Liberation Sans", sans-serif' font-weight="bold" fill="#111" stroke="#111" stroke-width="0.10" stroke-linejoin="round"><tspan x="0.00" y="0.00" font-size="7.60">0.3</tspan></text>
<text transform="translate(161.27,504.40) scale(1.1000,1)" font-family='"Liberation Sans", sans-serif' font-weight="bold" fill="#111" stroke="#111" stroke-width="0.10" stroke-linejoin="round"><tspan x="0.00" y="0.00" font-size="7.60">0.0</tspan></text>
<text transform="translate(158.51,514.10) scale(1.1000,1)" font-family='"Liberation Sans", sans-serif' font-weight="bold" fill="#111" stroke="#111" stroke-width="0.10" stroke-linejoin="round"><tspan x="0.00" y="0.00" font-size="7.60">-0.3</tspan></text>
<text transform="translate(173.51,431.90) scale(1.0500,1)" font-family='"Liberation Sans", sans-serif' font-weight="bold" fill="#111" stroke="#111" stroke-width="0.05" stroke-linejoin="round"><tspan x="0.00" y="0.00" font-size="8.20">40</tspan></text>
<text transform="translate(211.31,431.90) scale(1.0500,1)" font-family='"Liberation Sans", sans-serif' font-weight="bold" fill="#111" stroke="#111" stroke-width="0.05" stroke-linejoin="round"><tspan x="0.00" y="0.00" font-size="8.20">42</tspan></text>
<text transform="translate(253.66,431.90) scale(1.0500,1)" font-family='"Liberation Sans", sans-serif' font-weight="bold" fill="#111" stroke="#111" stroke-width="0.05" stroke-linejoin="round"><tspan x="0.00" y="0.00" font-size="8.20">44</tspan></text>
<text transform="translate(295.61,431.90) scale(1.0500,1)" font-family='"Liberation Sans", sans-serif' font-weight="bold" fill="#111" stroke="#111" stroke-width="0.05" stroke-linejoin="round"><tspan x="0.00" y="0.00" font-size="8.20">46</tspan></text>
<text transform="translate(337.56,431.90) scale(1.0500,1)" font-family='"Liberation Sans", sans-serif' font-weight="bold" fill="#111" stroke="#111" stroke-width="0.05" stroke-linejoin="round"><tspan x="0.00" y="0.00" font-size="8.20">48</tspan></text>
<text transform="translate(379.44,431.90) scale(1.0500,1)" font-family='"Liberation Sans", sans-serif' font-weight="bold" fill="#111" stroke="#111" stroke-width="0.05" stroke-linejoin="round"><tspan x="0.00" y="0.00" font-size="8.20">50</tspan></text>
<text transform="translate(167.00,520.50) scale(1.0500,1)" font-family='"Liberation Sans", sans-serif' font-weight="bold" fill="#111" stroke="#111" stroke-width="0.05" stroke-linejoin="round"><tspan x="0.00" y="0.00" font-size="8.20">332</tspan></text>
<text transform="translate(208.45,520.50) scale(1.0500,1)" font-family='"Liberation Sans", sans-serif' font-weight="bold" fill="#111" stroke="#111" stroke-width="0.05" stroke-linejoin="round"><tspan x="0.00" y="0.00" font-size="8.20">334</tspan></text>
<text transform="translate(249.80,520.50) scale(1.0500,1)" font-family='"Liberation Sans", sans-serif' font-weight="bold" fill="#111" stroke="#111" stroke-width="0.05" stroke-linejoin="round"><tspan x="0.00" y="0.00" font-size="8.20">336</tspan></text>
<text transform="translate(292.05,520.50) scale(1.0500,1)" font-family='"Liberation Sans", sans-serif' font-weight="bold" fill="#111" stroke="#111" stroke-width="0.05" stroke-linejoin="round"><tspan x="0.00" y="0.00" font-size="8.20">338</tspan></text>
<text transform="translate(333.10,520.50) scale(1.0500,1)" font-family='"Liberation Sans", sans-serif' font-weight="bold" fill="#111" stroke="#111" stroke-width="0.05" stroke-linejoin="round"><tspan x="0.00" y="0.00" font-size="8.20">340</tspan></text>
<text transform="translate(374.90,520.50) scale(1.0500,1)" font-family='"Liberation Sans", sans-serif' font-weight="bold" fill="#111" stroke="#111" stroke-width="0.05" stroke-linejoin="round"><tspan x="0.00" y="0.00" font-size="8.20">342</tspan></text>
<rect x="71.6" y="417.3" width="20.7" height="67.0" fill="none" stroke="#e8161c" stroke-width="1.7" stroke-dasharray="4.2 2.6"/>
<rect x="409.8" y="419.2" width="21.1" height="67.5" fill="none" stroke="#e8161c" stroke-width="1.7" stroke-dasharray="4.2 2.6"/>
<line x1="146.60" y1="405.30" x2="100.28" y2="416.91" stroke="#e8161c" stroke-width="1.10"/>
<polyline points="103.82,413.75 99.50,417.10 104.88,418.02" fill="none" stroke="#e8161c" stroke-width="1.10"/>
<line x1="385.10" y1="487.80" x2="404.94" y2="481.25" stroke="#e8161c" stroke-width="1.10"/>
<polyline points="401.64,484.66 405.70,481.00 400.26,480.48" fill="none" stroke="#e8161c" stroke-width="1.10"/></svg>
</body></html>
